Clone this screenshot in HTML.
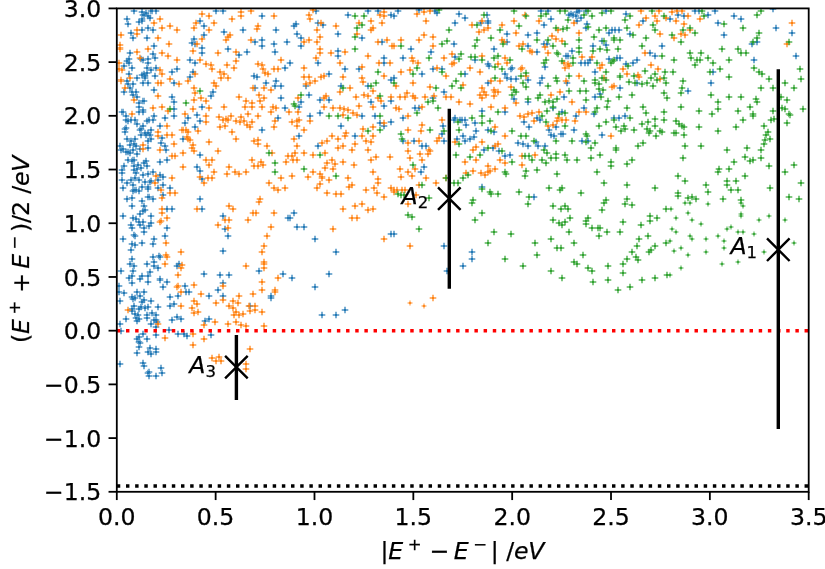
<!DOCTYPE html>
<html><head><meta charset="utf-8"><title>plot</title>
<style>html,body{margin:0;padding:0;background:#fff;width:825px;height:569px;overflow:hidden}svg{display:block}</style>
</head><body><svg width="825" height="569" viewBox="0 0 825 569" font-family="'DejaVu Sans', 'Liberation Sans', sans-serif" font-size="23.6"><g stroke="#000" stroke-width="0.25" stroke-opacity="1"><clipPath id="ax"><rect x="116.8" y="8.4" width="691.9000000000001" height="483.40000000000003"/></clipPath><g clip-path="url(#ax)"><path d="M130.7 11h6.6M147.7 11h6.6M152.7 11h6.6M212.7 11h6.6M219.7 11h6.6M140.7 15h6.6M144.7 16h6.6M123.7 19h6.6M135.7 22h6.6M196.7 21h6.6M124.7 24h6.6M200.7 26h6.6M144.7 28h6.6M138.7 30h6.6M149.7 30h6.6M220.7 32h6.6M239.7 30h6.6M127.7 33h6.6M129.7 38h6.6M143.7 38h6.6M190.7 39h6.6M200.7 35h6.6M150.7 46h6.6M188.7 43h6.6M191.7 44h6.6M198.7 48h6.6M224.7 49h6.6M126.7 53h6.6M149.7 54h6.6M235.7 55h6.6M243.7 52h6.6M198.7 53h6.6M125.7 59h6.6M125.7 63h6.6M139.7 60h6.6M144.7 59h6.6M144.7 63h6.6M186.7 60h6.6M191.7 63h6.6M128.7 68h6.6M143.7 68h6.6M143.7 73h6.6M152.7 68h6.6M168.7 72h6.6M173.7 69h6.6M189.7 72h6.6M125.7 74h6.6M151.7 76h6.6M133.7 78h6.6M141.7 78h6.6M186.7 77h6.6M250.7 76h6.6M123.7 81h6.6M139.7 83h6.6M144.7 83h6.6M170.7 83h6.6M126.7 88h6.6M128.7 92h6.6M120.7 92h6.6M132.7 92h6.6M150.7 90h6.6M209.7 92h6.6M133.7 97h6.6M139.7 101h6.6M135.7 103h6.6M168.7 97h6.6M170.7 102h6.6M207.7 96h6.6M142.7 13h6.6M148.7 11h6.6M146.7 18h6.6M138.7 21h6.6M138.7 19h6.6M138.7 12h6.6M144.7 28h6.6M139.7 15h6.6M140.7 101h6.6M138.7 75h6.6M151.7 58h6.6M147.7 70h6.6M123.7 61h6.6M129.7 95h6.6M124.7 84h6.6M140.7 74h6.6M137.7 59h6.6M120.7 66h6.6M141.7 76h6.6M129.7 84h6.6M312.7 11h6.6M258.7 16h6.6M344.7 15h6.6M364.7 11h6.6M374.7 11h6.6M387.7 15h6.6M292.7 24h6.6M290.7 26h6.6M314.7 23h6.6M319.7 25h6.6M272.7 30h6.6M334.7 34h6.6M358.7 38h6.6M293.7 34h6.6M297.7 38h6.6M258.7 40h6.6M251.7 42h6.6M270.7 44h6.6M258.7 46h6.6M283.7 42h6.6M297.7 46h6.6M378.7 42h6.6M271.7 52h6.6M334.7 51h6.6M334.7 56h6.6M286.7 63h6.6M314.7 63h6.6M380.7 58h6.6M380.7 63h6.6M281.7 68h6.6M341.7 69h6.6M355.7 69h6.6M325.7 74h6.6M253.7 77h6.6M262.7 83h6.6M272.7 81h6.6M277.7 86h6.6M271.7 86h6.6M251.7 88h6.6M302.7 86h6.6M337.7 86h6.6M364.7 86h6.6M277.7 98h6.6M305.7 95h6.6M297.7 102h6.6M316.7 100h6.6M325.7 100h6.6M367.7 102h6.6M387.7 101h6.6M387.7 80h6.6M394.7 11h6.6M390.7 16h6.6M433.7 13h6.6M431.7 11h6.6M415.7 10h6.6M455.7 14h6.6M461.7 18h6.6M483.7 15h6.6M451.7 23h6.6M477.7 23h6.6M484.7 21h6.6M484.7 23h6.6M503.7 34h6.6M524.7 35h6.6M407.7 49h6.6M450.7 44h6.6M503.7 42h6.6M490.7 49h6.6M524.7 46h6.6M427.7 52h6.6M399.7 58h6.6M451.7 57h6.6M471.7 60h6.6M485.7 66h6.6M484.7 64h6.6M418.7 74h6.6M429.7 69h6.6M438.7 69h6.6M507.7 69h6.6M508.7 68h6.6M501.7 74h6.6M461.7 74h6.6M390.7 78h6.6M484.7 83h6.6M503.7 78h6.6M507.7 79h6.6M512.7 79h6.6M524.7 80h6.6M429.7 98h6.6M440.7 92h6.6M510.7 99h6.6M524.7 102h6.6M537.7 11h6.6M544.7 11h6.6M565.7 15h6.6M569.7 15h6.6M572.7 16h6.6M575.7 11h6.6M573.7 21h6.6M582.7 11h6.6M602.7 11h6.6M622.7 14h6.6M547.7 19h6.6M639.7 21h6.6M540.7 25h6.6M583.7 24h6.6M582.7 28h6.6M608.7 30h6.6M611.7 30h6.6M615.7 30h6.6M605.7 33h6.6M626.7 34h6.6M533.7 33h6.6M598.7 41h6.6M540.7 44h6.6M543.7 44h6.6M533.7 52h6.6M568.7 51h6.6M562.7 56h6.6M564.7 56h6.6M589.7 46h6.6M602.7 45h6.6M658.7 46h6.6M646.7 53h6.6M651.7 56h6.6M605.7 59h6.6M613.7 58h6.6M616.7 58h6.6M541.7 67h6.6M577.7 63h6.6M581.7 63h6.6M584.7 63h6.6M586.7 60h6.6M591.7 72h6.6M622.7 64h6.6M629.7 63h6.6M633.7 60h6.6M538.7 78h6.6M536.7 83h6.6M563.7 83h6.6M616.7 88h6.6M633.7 83h6.6M596.7 94h6.6M591.7 97h6.6M560.7 97h6.6M674.7 15h6.6M680.7 16h6.6M691.7 11h6.6M695.7 11h6.6M704.7 15h6.6M711.7 11h6.6M666.7 19h6.6M714.7 23h6.6M730.7 16h6.6M737.7 19h6.6M769.7 9h6.6M772.7 28h6.6M788.7 33h6.6M748.7 44h6.6M753.7 42h6.6M720.7 35h6.6M792.7 56h6.6M750.7 60h6.6M709.7 72h6.6M707.7 83h6.6M684.7 91h6.6M119.7 112h6.6M122.7 120h6.6M127.7 120h6.6M131.7 120h6.6M135.7 112h6.6M139.7 112h6.6M135.7 107h6.6M133.7 124h6.6M139.7 126h6.6M143.7 121h6.6M145.7 120h6.6M147.7 130h6.6M137.7 129h6.6M121.7 132h6.6M123.7 139h6.6M127.7 141h6.6M131.7 139h6.6M132.7 146h6.6M129.7 150h6.6M133.7 154h6.6M126.7 153h6.6M124.7 160h6.6M128.7 161h6.6M130.7 160h6.6M144.7 141h6.6M147.7 139h6.6M144.7 148h6.6M137.7 135h6.6M142.7 135h6.6M130.7 166h6.6M137.7 168h6.6M143.7 166h6.6M132.7 173h6.6M139.7 175h6.6M144.7 174h6.6M127.7 180h6.6M123.7 183h6.6M129.7 185h6.6M135.7 180h6.6M141.7 182h6.6M138.7 187h6.6M119.7 188h6.6M132.7 190h6.6M144.7 187h6.6M128.7 198h6.6M123.7 199h6.6M144.7 197h6.6M149.7 199h6.6M170.7 109h6.6M170.7 116h6.6M161.7 118h6.6M156.7 126h6.6M158.7 138h6.6M157.7 143h6.6M161.7 146h6.6M162.7 150h6.6M163.7 160h6.6M156.7 162h6.6M156.7 175h6.6M159.7 177h6.6M154.7 180h6.6M159.7 185h6.6M154.7 188h6.6M166.7 188h6.6M159.7 195h6.6M184.7 118h6.6M181.7 123h6.6M179.7 139h6.6M191.7 127h6.6M193.7 115h6.6M196.7 121h6.6M198.7 107h6.6M196.7 155h6.6M193.7 167h6.6M196.7 171h6.6M198.7 179h6.6M196.7 199h6.6M141.7 133h6.6M150.7 116h6.6M131.7 178h6.6M122.7 152h6.6M118.7 170h6.6M142.7 161h6.6M146.7 135h6.6M140.7 163h6.6M136.7 149h6.6M145.7 197h6.6M133.7 169h6.6M118.7 173h6.6M138.7 201h6.6M144.7 133h6.6M130.7 170h6.6M117.7 150h6.6M122.7 116h6.6M118.7 180h6.6M121.7 129h6.6M130.7 190h6.6M119.7 149h6.6M135.7 191h6.6M144.7 189h6.6M126.7 145h6.6M129.7 191h6.6M149.7 120h6.6M122.7 128h6.6M124.7 152h6.6M136.7 130h6.6M116.7 146h6.6M129.7 160h6.6M149.7 172h6.6M134.7 165h6.6M139.7 110h6.6M147.7 181h6.6M146.7 182h6.6M130.7 144h6.6M120.7 166h6.6M118.7 112h6.6M124.7 121h6.6M281.7 108h6.6M295.7 107h6.6M274.7 118h6.6M258.7 130h6.6M306.7 116h6.6M316.7 113h6.6M358.7 116h6.6M371.7 116h6.6M380.7 106h6.6M376.7 123h6.6M380.7 126h6.6M387.7 122h6.6M337.7 126h6.6M295.7 136h6.6M314.7 146h6.6M351.7 136h6.6M411.7 108h6.6M415.7 108h6.6M399.7 118h6.6M399.7 141h6.6M410.7 141h6.6M418.7 146h6.6M422.7 146h6.6M420.7 167h6.6M417.7 172h6.6M439.7 126h6.6M438.7 134h6.6M440.7 141h6.6M450.7 120h6.6M451.7 118h6.6M456.7 120h6.6M458.7 120h6.6M461.7 120h6.6M462.7 125h6.6M471.7 123h6.6M478.7 111h6.6M501.7 112h6.6M484.7 130h6.6M490.7 132h6.6M472.7 131h6.6M470.7 137h6.6M466.7 139h6.6M461.7 141h6.6M459.7 136h6.6M453.7 139h6.6M480.7 150h6.6M489.7 148h6.6M495.7 151h6.6M501.7 156h6.6M506.7 155h6.6M514.7 143h6.6M519.7 144h6.6M524.7 146h6.6M520.7 122h6.6M525.7 127h6.6M478.7 187h6.6M533.7 118h6.6M536.7 120h6.6M549.7 108h6.6M558.7 112h6.6M552.7 127h6.6M545.7 130h6.6M547.7 135h6.6M550.7 136h6.6M557.7 134h6.6M559.7 134h6.6M570.7 130h6.6M572.7 116h6.6M580.7 108h6.6M590.7 114h6.6M610.7 118h6.6M615.7 118h6.6M621.7 116h6.6M598.7 135h6.6M578.7 141h6.6M584.7 141h6.6M532.7 142h6.6M534.7 146h6.6M541.7 146h6.6M530.7 197h6.6M128.7 206h6.6M140.7 206h6.6M141.7 210h6.6M139.7 211h6.6M163.7 209h6.6M168.7 209h6.6M198.7 209h6.6M119.7 216h6.6M129.7 218h6.6M132.7 219h6.6M147.7 216h6.6M135.7 222h6.6M139.7 222h6.6M147.7 223h6.6M127.7 225h6.6M128.7 228h6.6M140.7 228h6.6M140.7 232h6.6M163.7 228h6.6M219.7 216h6.6M221.7 229h6.6M119.7 239h6.6M131.7 236h6.6M150.7 239h6.6M149.7 244h6.6M161.7 236h6.6M138.7 243h6.6M131.7 245h6.6M127.7 250h6.6M224.7 236h6.6M219.7 251h6.6M149.7 257h6.6M155.7 256h6.6M156.7 257h6.6M128.7 259h6.6M126.7 264h6.6M143.7 264h6.6M130.7 266h6.6M150.7 262h6.6M150.7 266h6.6M154.7 268h6.6M173.7 266h6.6M175.7 264h6.6M117.7 271h6.6M129.7 271h6.6M128.7 276h6.6M138.7 276h6.6M144.7 276h6.6M156.7 279h6.6M156.7 280h6.6M200.7 274h6.6M216.7 275h6.6M225.7 275h6.6M128.7 283h6.6M144.7 282h6.6M163.7 282h6.6M115.7 286h6.6M115.7 292h6.6M159.7 287h6.6M181.7 286h6.6M219.7 283h6.6M214.7 290h6.6M182.7 292h6.6M185.7 292h6.6M133.7 292h6.6M140.7 292h6.6M128.7 297h6.6M131.7 298h6.6M166.7 297h6.6M174.7 296h6.6M205.7 296h6.6M219.7 296h6.6M130.7 235h6.6M145.7 226h6.6M120.7 293h6.6M136.7 225h6.6M136.7 214h6.6M136.7 296h6.6M146.7 272h6.6M128.7 244h6.6M125.7 278h6.6M136.7 279h6.6M290.7 213h6.6M284.7 218h6.6M286.7 218h6.6M293.7 227h6.6M300.7 227h6.6M255.7 271h6.6M279.7 274h6.6M288.7 278h6.6M311.7 239h6.6M332.7 252h6.6M325.7 274h6.6M311.7 287h6.6M267.7 296h6.6M387.7 234h6.6M390.7 234h6.6M440.7 246h6.6M468.7 252h6.6M468.7 259h6.6M459.7 266h6.6M443.7 271h6.6M129.7 299h6.6M140.7 300h6.6M147.7 301h6.6M116.7 301h6.6M130.7 306h6.6M135.7 309h6.6M141.7 308h6.6M144.7 307h6.6M154.7 307h6.6M148.7 313h6.6M152.7 315h6.6M131.7 314h6.6M132.7 318h6.6M133.7 321h6.6M143.7 315h6.6M143.7 318h6.6M150.7 320h6.6M147.7 324h6.6M122.7 319h6.6M116.7 324h6.6M128.7 311h6.6M166.7 306h6.6M170.7 304h6.6M168.7 320h6.6M173.7 317h6.6M177.7 319h6.6M201.7 321h6.6M205.7 319h6.6M246.7 306h6.6M165.7 330h6.6M174.7 334h6.6M180.7 334h6.6M183.7 336h6.6M207.7 335h6.6M117.7 331h6.6M133.7 339h6.6M135.7 337h6.6M139.7 334h6.6M143.7 339h6.6M152.7 335h6.6M135.7 347h6.6M146.7 348h6.6M147.7 354h6.6M144.7 352h6.6M133.7 353h6.6M116.7 364h6.6M139.7 363h6.6M140.7 366h6.6M144.7 373h6.6M145.7 376h6.6M157.7 368h6.6M158.7 373h6.6M137.7 307h6.6M152.7 327h6.6M153.7 322h6.6M152.7 320h6.6M134.7 315h6.6M138.7 302h6.6M128.7 309h6.6M135.7 319h6.6M267.7 298h6.6M318.7 315h6.6M332.7 315h6.6M341.7 310h6.6M152.7 352h6.6M152.7 376h6.6M152.7 349h6.6M136.7 343h6.6M135.7 342h6.6M145.7 372h6.6M567.7 14h6.6M573.7 12h6.6M577.7 18h6.6" stroke="#1f77b4" stroke-width="2" stroke-opacity="0.6" fill="none"/><path d="M134 7.7v6.6M151 7.7v6.6M156 7.7v6.6M216 7.7v6.6M223 7.7v6.6M144 11.7v6.6M148 12.7v6.6M127 15.7v6.6M139 18.7v6.6M200 17.7v6.6M128 20.7v6.6M204 22.7v6.6M148 24.7v6.6M142 26.7v6.6M153 26.7v6.6M224 28.7v6.6M243 26.7v6.6M131 29.7v6.6M133 34.7v6.6M147 34.7v6.6M194 35.7v6.6M204 31.7v6.6M154 42.7v6.6M192 39.7v6.6M195 40.7v6.6M202 44.7v6.6M228 45.7v6.6M130 49.7v6.6M153 50.7v6.6M239 51.7v6.6M247 48.7v6.6M202 49.7v6.6M129 55.7v6.6M129 59.7v6.6M143 56.7v6.6M148 55.7v6.6M148 59.7v6.6M190 56.7v6.6M195 59.7v6.6M132 64.7v6.6M147 64.7v6.6M147 69.7v6.6M156 64.7v6.6M172 68.7v6.6M177 65.7v6.6M193 68.7v6.6M129 70.7v6.6M155 72.7v6.6M137 74.7v6.6M145 74.7v6.6M190 73.7v6.6M254 72.7v6.6M127 77.7v6.6M143 79.7v6.6M148 79.7v6.6M174 79.7v6.6M130 84.7v6.6M132 88.7v6.6M124 88.7v6.6M136 88.7v6.6M154 86.7v6.6M213 88.7v6.6M137 93.7v6.6M143 97.7v6.6M139 99.7v6.6M172 93.7v6.6M174 98.7v6.6M211 92.7v6.6M146 9.7v6.6M152 7.7v6.6M150 14.7v6.6M142 17.7v6.6M142 15.7v6.6M142 8.7v6.6M148 24.7v6.6M143 11.7v6.6M144 97.7v6.6M142 71.7v6.6M155 54.7v6.6M151 66.7v6.6M127 57.7v6.6M133 91.7v6.6M128 80.7v6.6M144 70.7v6.6M141 55.7v6.6M124 62.7v6.6M145 72.7v6.6M133 80.7v6.6M316 7.7v6.6M262 12.7v6.6M348 11.7v6.6M368 7.7v6.6M378 7.7v6.6M391 11.7v6.6M296 20.7v6.6M294 22.7v6.6M318 19.7v6.6M323 21.7v6.6M276 26.7v6.6M338 30.7v6.6M362 34.7v6.6M297 30.7v6.6M301 34.7v6.6M262 36.7v6.6M255 38.7v6.6M274 40.7v6.6M262 42.7v6.6M287 38.7v6.6M301 42.7v6.6M382 38.7v6.6M275 48.7v6.6M338 47.7v6.6M338 52.7v6.6M290 59.7v6.6M318 59.7v6.6M384 54.7v6.6M384 59.7v6.6M285 64.7v6.6M345 65.7v6.6M359 65.7v6.6M329 70.7v6.6M257 73.7v6.6M266 79.7v6.6M276 77.7v6.6M281 82.7v6.6M275 82.7v6.6M255 84.7v6.6M306 82.7v6.6M341 82.7v6.6M368 82.7v6.6M281 94.7v6.6M309 91.7v6.6M301 98.7v6.6M320 96.7v6.6M329 96.7v6.6M371 98.7v6.6M391 97.7v6.6M391 76.7v6.6M398 7.7v6.6M394 12.7v6.6M437 9.7v6.6M435 7.7v6.6M419 6.7v6.6M459 10.7v6.6M465 14.7v6.6M487 11.7v6.6M455 19.7v6.6M481 19.7v6.6M488 17.7v6.6M488 19.7v6.6M507 30.7v6.6M528 31.7v6.6M411 45.7v6.6M454 40.7v6.6M507 38.7v6.6M494 45.7v6.6M528 42.7v6.6M431 48.7v6.6M403 54.7v6.6M455 53.7v6.6M475 56.7v6.6M489 62.7v6.6M488 60.7v6.6M422 70.7v6.6M433 65.7v6.6M442 65.7v6.6M511 65.7v6.6M512 64.7v6.6M505 70.7v6.6M465 70.7v6.6M394 74.7v6.6M488 79.7v6.6M507 74.7v6.6M511 75.7v6.6M516 75.7v6.6M528 76.7v6.6M433 94.7v6.6M444 88.7v6.6M514 95.7v6.6M528 98.7v6.6M541 7.7v6.6M548 7.7v6.6M569 11.7v6.6M573 11.7v6.6M576 12.7v6.6M579 7.7v6.6M577 17.7v6.6M586 7.7v6.6M606 7.7v6.6M626 10.7v6.6M551 15.7v6.6M643 17.7v6.6M544 21.7v6.6M587 20.7v6.6M586 24.7v6.6M612 26.7v6.6M615 26.7v6.6M619 26.7v6.6M609 29.7v6.6M630 30.7v6.6M537 29.7v6.6M602 37.7v6.6M544 40.7v6.6M547 40.7v6.6M537 48.7v6.6M572 47.7v6.6M566 52.7v6.6M568 52.7v6.6M593 42.7v6.6M606 41.7v6.6M662 42.7v6.6M650 49.7v6.6M655 52.7v6.6M609 55.7v6.6M617 54.7v6.6M620 54.7v6.6M545 63.7v6.6M581 59.7v6.6M585 59.7v6.6M588 59.7v6.6M590 56.7v6.6M595 68.7v6.6M626 60.7v6.6M633 59.7v6.6M637 56.7v6.6M542 74.7v6.6M540 79.7v6.6M567 79.7v6.6M620 84.7v6.6M637 79.7v6.6M600 90.7v6.6M595 93.7v6.6M564 93.7v6.6M678 11.7v6.6M684 12.7v6.6M695 7.7v6.6M699 7.7v6.6M708 11.7v6.6M715 7.7v6.6M670 15.7v6.6M718 19.7v6.6M734 12.7v6.6M741 15.7v6.6M773 5.7v6.6M776 24.7v6.6M792 29.7v6.6M752 40.7v6.6M757 38.7v6.6M724 31.7v6.6M796 52.7v6.6M754 56.7v6.6M713 68.7v6.6M711 79.7v6.6M688 87.7v6.6M123 108.7v6.6M126 116.7v6.6M131 116.7v6.6M135 116.7v6.6M139 108.7v6.6M143 108.7v6.6M139 103.7v6.6M137 120.7v6.6M143 122.7v6.6M147 117.7v6.6M149 116.7v6.6M151 126.7v6.6M141 125.7v6.6M125 128.7v6.6M127 135.7v6.6M131 137.7v6.6M135 135.7v6.6M136 142.7v6.6M133 146.7v6.6M137 150.7v6.6M130 149.7v6.6M128 156.7v6.6M132 157.7v6.6M134 156.7v6.6M148 137.7v6.6M151 135.7v6.6M148 144.7v6.6M141 131.7v6.6M146 131.7v6.6M134 162.7v6.6M141 164.7v6.6M147 162.7v6.6M136 169.7v6.6M143 171.7v6.6M148 170.7v6.6M131 176.7v6.6M127 179.7v6.6M133 181.7v6.6M139 176.7v6.6M145 178.7v6.6M142 183.7v6.6M123 184.7v6.6M136 186.7v6.6M148 183.7v6.6M132 194.7v6.6M127 195.7v6.6M148 193.7v6.6M153 195.7v6.6M174 105.7v6.6M174 112.7v6.6M165 114.7v6.6M160 122.7v6.6M162 134.7v6.6M161 139.7v6.6M165 142.7v6.6M166 146.7v6.6M167 156.7v6.6M160 158.7v6.6M160 171.7v6.6M163 173.7v6.6M158 176.7v6.6M163 181.7v6.6M158 184.7v6.6M170 184.7v6.6M163 191.7v6.6M188 114.7v6.6M185 119.7v6.6M183 135.7v6.6M195 123.7v6.6M197 111.7v6.6M200 117.7v6.6M202 103.7v6.6M200 151.7v6.6M197 163.7v6.6M200 167.7v6.6M202 175.7v6.6M200 195.7v6.6M145 129.7v6.6M154 112.7v6.6M135 174.7v6.6M126 148.7v6.6M122 166.7v6.6M146 157.7v6.6M150 131.7v6.6M144 159.7v6.6M140 145.7v6.6M149 193.7v6.6M137 165.7v6.6M122 169.7v6.6M142 197.7v6.6M148 129.7v6.6M134 166.7v6.6M121 146.7v6.6M126 112.7v6.6M122 176.7v6.6M125 125.7v6.6M134 186.7v6.6M123 145.7v6.6M139 187.7v6.6M148 185.7v6.6M130 141.7v6.6M133 187.7v6.6M153 116.7v6.6M126 124.7v6.6M128 148.7v6.6M140 126.7v6.6M120 142.7v6.6M133 156.7v6.6M153 168.7v6.6M138 161.7v6.6M143 106.7v6.6M151 177.7v6.6M150 178.7v6.6M134 140.7v6.6M124 162.7v6.6M122 108.7v6.6M128 117.7v6.6M285 104.7v6.6M299 103.7v6.6M278 114.7v6.6M262 126.7v6.6M310 112.7v6.6M320 109.7v6.6M362 112.7v6.6M375 112.7v6.6M384 102.7v6.6M380 119.7v6.6M384 122.7v6.6M391 118.7v6.6M341 122.7v6.6M299 132.7v6.6M318 142.7v6.6M355 132.7v6.6M415 104.7v6.6M419 104.7v6.6M403 114.7v6.6M403 137.7v6.6M414 137.7v6.6M422 142.7v6.6M426 142.7v6.6M424 163.7v6.6M421 168.7v6.6M443 122.7v6.6M442 130.7v6.6M444 137.7v6.6M454 116.7v6.6M455 114.7v6.6M460 116.7v6.6M462 116.7v6.6M465 116.7v6.6M466 121.7v6.6M475 119.7v6.6M482 107.7v6.6M505 108.7v6.6M488 126.7v6.6M494 128.7v6.6M476 127.7v6.6M474 133.7v6.6M470 135.7v6.6M465 137.7v6.6M463 132.7v6.6M457 135.7v6.6M484 146.7v6.6M493 144.7v6.6M499 147.7v6.6M505 152.7v6.6M510 151.7v6.6M518 139.7v6.6M523 140.7v6.6M528 142.7v6.6M524 118.7v6.6M529 123.7v6.6M482 183.7v6.6M537 114.7v6.6M540 116.7v6.6M553 104.7v6.6M562 108.7v6.6M556 123.7v6.6M549 126.7v6.6M551 131.7v6.6M554 132.7v6.6M561 130.7v6.6M563 130.7v6.6M574 126.7v6.6M576 112.7v6.6M584 104.7v6.6M594 110.7v6.6M614 114.7v6.6M619 114.7v6.6M625 112.7v6.6M602 131.7v6.6M582 137.7v6.6M588 137.7v6.6M536 138.7v6.6M538 142.7v6.6M545 142.7v6.6M534 193.7v6.6M132 202.7v6.6M144 202.7v6.6M145 206.7v6.6M143 207.7v6.6M167 205.7v6.6M172 205.7v6.6M202 205.7v6.6M123 212.7v6.6M133 214.7v6.6M136 215.7v6.6M151 212.7v6.6M139 218.7v6.6M143 218.7v6.6M151 219.7v6.6M131 221.7v6.6M132 224.7v6.6M144 224.7v6.6M144 228.7v6.6M167 224.7v6.6M223 212.7v6.6M225 225.7v6.6M123 235.7v6.6M135 232.7v6.6M154 235.7v6.6M153 240.7v6.6M165 232.7v6.6M142 239.7v6.6M135 241.7v6.6M131 246.7v6.6M228 232.7v6.6M223 247.7v6.6M153 253.7v6.6M159 252.7v6.6M160 253.7v6.6M132 255.7v6.6M130 260.7v6.6M147 260.7v6.6M134 262.7v6.6M154 258.7v6.6M154 262.7v6.6M158 264.7v6.6M177 262.7v6.6M179 260.7v6.6M121 267.7v6.6M133 267.7v6.6M132 272.7v6.6M142 272.7v6.6M148 272.7v6.6M160 275.7v6.6M160 276.7v6.6M204 270.7v6.6M220 271.7v6.6M229 271.7v6.6M132 279.7v6.6M148 278.7v6.6M167 278.7v6.6M119 282.7v6.6M119 288.7v6.6M163 283.7v6.6M185 282.7v6.6M223 279.7v6.6M218 286.7v6.6M186 288.7v6.6M189 288.7v6.6M137 288.7v6.6M144 288.7v6.6M132 293.7v6.6M135 294.7v6.6M170 293.7v6.6M178 292.7v6.6M209 292.7v6.6M223 292.7v6.6M134 231.7v6.6M149 222.7v6.6M124 289.7v6.6M140 221.7v6.6M140 210.7v6.6M140 292.7v6.6M150 268.7v6.6M132 240.7v6.6M129 274.7v6.6M140 275.7v6.6M294 209.7v6.6M288 214.7v6.6M290 214.7v6.6M297 223.7v6.6M304 223.7v6.6M259 267.7v6.6M283 270.7v6.6M292 274.7v6.6M315 235.7v6.6M336 248.7v6.6M329 270.7v6.6M315 283.7v6.6M271 292.7v6.6M391 230.7v6.6M394 230.7v6.6M444 242.7v6.6M472 248.7v6.6M472 255.7v6.6M463 262.7v6.6M447 267.7v6.6M133 295.7v6.6M144 296.7v6.6M151 297.7v6.6M120 297.7v6.6M134 302.7v6.6M139 305.7v6.6M145 304.7v6.6M148 303.7v6.6M158 303.7v6.6M152 309.7v6.6M156 311.7v6.6M135 310.7v6.6M136 314.7v6.6M137 317.7v6.6M147 311.7v6.6M147 314.7v6.6M154 316.7v6.6M151 320.7v6.6M126 315.7v6.6M120 320.7v6.6M132 307.7v6.6M170 302.7v6.6M174 300.7v6.6M172 316.7v6.6M177 313.7v6.6M181 315.7v6.6M205 317.7v6.6M209 315.7v6.6M250 302.7v6.6M169 326.7v6.6M178 330.7v6.6M184 330.7v6.6M187 332.7v6.6M211 331.7v6.6M121 327.7v6.6M137 335.7v6.6M139 333.7v6.6M143 330.7v6.6M147 335.7v6.6M156 331.7v6.6M139 343.7v6.6M150 344.7v6.6M151 350.7v6.6M148 348.7v6.6M137 349.7v6.6M120 360.7v6.6M143 359.7v6.6M144 362.7v6.6M148 369.7v6.6M149 372.7v6.6M161 364.7v6.6M162 369.7v6.6M141 303.7v6.6M156 323.7v6.6M157 318.7v6.6M156 316.7v6.6M138 311.7v6.6M142 298.7v6.6M132 305.7v6.6M139 315.7v6.6M271 294.7v6.6M322 311.7v6.6M336 311.7v6.6M345 306.7v6.6M156 348.7v6.6M156 372.7v6.6M156 345.7v6.6M140 339.7v6.6M139 338.7v6.6M149 368.7v6.6M571 10.7v6.6M577 8.7v6.6M581 14.7v6.6" stroke="#1f77b4" stroke-width="2" stroke-opacity="0.6" fill="none"/><path d="M133 11h2M150 11h2M155 11h2M215 11h2M222 11h2M143 15h2M147 16h2M126 19h2M138 22h2M199 21h2M127 24h2M203 26h2M147 28h2M141 30h2M152 30h2M223 32h2M242 30h2M130 33h2M132 38h2M146 38h2M193 39h2M203 35h2M153 46h2M191 43h2M194 44h2M201 48h2M227 49h2M129 53h2M152 54h2M238 55h2M246 52h2M201 53h2M128 59h2M128 63h2M142 60h2M147 59h2M147 63h2M189 60h2M194 63h2M131 68h2M146 68h2M146 73h2M155 68h2M171 72h2M176 69h2M192 72h2M128 74h2M154 76h2M136 78h2M144 78h2M189 77h2M253 76h2M126 81h2M142 83h2M147 83h2M173 83h2M129 88h2M131 92h2M123 92h2M135 92h2M153 90h2M212 92h2M136 97h2M142 101h2M138 103h2M171 97h2M173 102h2M210 96h2M145 13h2M151 11h2M149 18h2M141 21h2M141 19h2M141 12h2M147 28h2M142 15h2M143 101h2M141 75h2M154 58h2M150 70h2M126 61h2M132 95h2M127 84h2M143 74h2M140 59h2M123 66h2M144 76h2M132 84h2M315 11h2M261 16h2M347 15h2M367 11h2M377 11h2M390 15h2M295 24h2M293 26h2M317 23h2M322 25h2M275 30h2M337 34h2M361 38h2M296 34h2M300 38h2M261 40h2M254 42h2M273 44h2M261 46h2M286 42h2M300 46h2M381 42h2M274 52h2M337 51h2M337 56h2M289 63h2M317 63h2M383 58h2M383 63h2M284 68h2M344 69h2M358 69h2M328 74h2M256 77h2M265 83h2M275 81h2M280 86h2M274 86h2M254 88h2M305 86h2M340 86h2M367 86h2M280 98h2M308 95h2M300 102h2M319 100h2M328 100h2M370 102h2M390 101h2M390 80h2M397 11h2M393 16h2M436 13h2M434 11h2M418 10h2M458 14h2M464 18h2M486 15h2M454 23h2M480 23h2M487 21h2M487 23h2M506 34h2M527 35h2M410 49h2M453 44h2M506 42h2M493 49h2M527 46h2M430 52h2M402 58h2M454 57h2M474 60h2M488 66h2M487 64h2M421 74h2M432 69h2M441 69h2M510 69h2M511 68h2M504 74h2M464 74h2M393 78h2M487 83h2M506 78h2M510 79h2M515 79h2M527 80h2M432 98h2M443 92h2M513 99h2M527 102h2M540 11h2M547 11h2M568 15h2M572 15h2M575 16h2M578 11h2M576 21h2M585 11h2M605 11h2M625 14h2M550 19h2M642 21h2M543 25h2M586 24h2M585 28h2M611 30h2M614 30h2M618 30h2M608 33h2M629 34h2M536 33h2M601 41h2M543 44h2M546 44h2M536 52h2M571 51h2M565 56h2M567 56h2M592 46h2M605 45h2M661 46h2M649 53h2M654 56h2M608 59h2M616 58h2M619 58h2M544 67h2M580 63h2M584 63h2M587 63h2M589 60h2M594 72h2M625 64h2M632 63h2M636 60h2M541 78h2M539 83h2M566 83h2M619 88h2M636 83h2M599 94h2M594 97h2M563 97h2M677 15h2M683 16h2M694 11h2M698 11h2M707 15h2M714 11h2M669 19h2M717 23h2M733 16h2M740 19h2M772 9h2M775 28h2M791 33h2M751 44h2M756 42h2M723 35h2M795 56h2M753 60h2M712 72h2M710 83h2M687 91h2M122 112h2M125 120h2M130 120h2M134 120h2M138 112h2M142 112h2M138 107h2M136 124h2M142 126h2M146 121h2M148 120h2M150 130h2M140 129h2M124 132h2M126 139h2M130 141h2M134 139h2M135 146h2M132 150h2M136 154h2M129 153h2M127 160h2M131 161h2M133 160h2M147 141h2M150 139h2M147 148h2M140 135h2M145 135h2M133 166h2M140 168h2M146 166h2M135 173h2M142 175h2M147 174h2M130 180h2M126 183h2M132 185h2M138 180h2M144 182h2M141 187h2M122 188h2M135 190h2M147 187h2M131 198h2M126 199h2M147 197h2M152 199h2M173 109h2M173 116h2M164 118h2M159 126h2M161 138h2M160 143h2M164 146h2M165 150h2M166 160h2M159 162h2M159 175h2M162 177h2M157 180h2M162 185h2M157 188h2M169 188h2M162 195h2M187 118h2M184 123h2M182 139h2M194 127h2M196 115h2M199 121h2M201 107h2M199 155h2M196 167h2M199 171h2M201 179h2M199 199h2M144 133h2M153 116h2M134 178h2M125 152h2M121 170h2M145 161h2M149 135h2M143 163h2M139 149h2M148 197h2M136 169h2M121 173h2M141 201h2M147 133h2M133 170h2M120 150h2M125 116h2M121 180h2M124 129h2M133 190h2M122 149h2M138 191h2M147 189h2M129 145h2M132 191h2M152 120h2M125 128h2M127 152h2M139 130h2M119 146h2M132 160h2M152 172h2M137 165h2M142 110h2M150 181h2M149 182h2M133 144h2M123 166h2M121 112h2M127 121h2M284 108h2M298 107h2M277 118h2M261 130h2M309 116h2M319 113h2M361 116h2M374 116h2M383 106h2M379 123h2M383 126h2M390 122h2M340 126h2M298 136h2M317 146h2M354 136h2M414 108h2M418 108h2M402 118h2M402 141h2M413 141h2M421 146h2M425 146h2M423 167h2M420 172h2M442 126h2M441 134h2M443 141h2M453 120h2M454 118h2M459 120h2M461 120h2M464 120h2M465 125h2M474 123h2M481 111h2M504 112h2M487 130h2M493 132h2M475 131h2M473 137h2M469 139h2M464 141h2M462 136h2M456 139h2M483 150h2M492 148h2M498 151h2M504 156h2M509 155h2M517 143h2M522 144h2M527 146h2M523 122h2M528 127h2M481 187h2M536 118h2M539 120h2M552 108h2M561 112h2M555 127h2M548 130h2M550 135h2M553 136h2M560 134h2M562 134h2M573 130h2M575 116h2M583 108h2M593 114h2M613 118h2M618 118h2M624 116h2M601 135h2M581 141h2M587 141h2M535 142h2M537 146h2M544 146h2M533 197h2M131 206h2M143 206h2M144 210h2M142 211h2M166 209h2M171 209h2M201 209h2M122 216h2M132 218h2M135 219h2M150 216h2M138 222h2M142 222h2M150 223h2M130 225h2M131 228h2M143 228h2M143 232h2M166 228h2M222 216h2M224 229h2M122 239h2M134 236h2M153 239h2M152 244h2M164 236h2M141 243h2M134 245h2M130 250h2M227 236h2M222 251h2M152 257h2M158 256h2M159 257h2M131 259h2M129 264h2M146 264h2M133 266h2M153 262h2M153 266h2M157 268h2M176 266h2M178 264h2M120 271h2M132 271h2M131 276h2M141 276h2M147 276h2M159 279h2M159 280h2M203 274h2M219 275h2M228 275h2M131 283h2M147 282h2M166 282h2M118 286h2M118 292h2M162 287h2M184 286h2M222 283h2M217 290h2M185 292h2M188 292h2M136 292h2M143 292h2M131 297h2M134 298h2M169 297h2M177 296h2M208 296h2M222 296h2M133 235h2M148 226h2M123 293h2M139 225h2M139 214h2M139 296h2M149 272h2M131 244h2M128 278h2M139 279h2M293 213h2M287 218h2M289 218h2M296 227h2M303 227h2M258 271h2M282 274h2M291 278h2M314 239h2M335 252h2M328 274h2M314 287h2M270 296h2M390 234h2M393 234h2M443 246h2M471 252h2M471 259h2M462 266h2M446 271h2M132 299h2M143 300h2M150 301h2M119 301h2M133 306h2M138 309h2M144 308h2M147 307h2M157 307h2M151 313h2M155 315h2M134 314h2M135 318h2M136 321h2M146 315h2M146 318h2M153 320h2M150 324h2M125 319h2M119 324h2M131 311h2M169 306h2M173 304h2M171 320h2M176 317h2M180 319h2M204 321h2M208 319h2M249 306h2M168 330h2M177 334h2M183 334h2M186 336h2M210 335h2M120 331h2M136 339h2M138 337h2M142 334h2M146 339h2M155 335h2M138 347h2M149 348h2M150 354h2M147 352h2M136 353h2M119 364h2M142 363h2M143 366h2M147 373h2M148 376h2M160 368h2M161 373h2M140 307h2M155 327h2M156 322h2M155 320h2M137 315h2M141 302h2M131 309h2M138 319h2M270 298h2M321 315h2M335 315h2M344 310h2M155 352h2M155 376h2M155 349h2M139 343h2M138 342h2M148 372h2M570 14h2M576 12h2M580 18h2" stroke="#1f77b4" stroke-width="2" stroke-opacity="0.95" fill="none"/><path d="M198.7 14h6.6M205.7 16h6.6M237.7 12h6.6M247.7 11h6.6M156.7 19h6.6M192.7 23h6.6M228.7 19h6.6M237.7 16h6.6M150.7 23h6.6M166.7 26h6.6M210.7 23h6.6M190.7 28h6.6M133.7 30h6.6M158.7 28h6.6M173.7 30h6.6M205.7 30h6.6M117.7 35h6.6M133.7 34h6.6M154.7 38h6.6M198.7 39h6.6M224.7 37h6.6M226.7 35h6.6M222.7 40h6.6M247.7 40h6.6M116.7 45h6.6M165.7 44h6.6M193.7 44h6.6M189.7 51h6.6M144.7 49h6.6M116.7 49h6.6M133.7 52h6.6M158.7 53h6.6M164.7 56h6.6M214.7 53h6.6M232.7 52h6.6M136.7 58h6.6M173.7 60h6.6M196.7 60h6.6M202.7 64h6.6M207.7 65h6.6M223.7 65h6.6M232.7 61h6.6M230.7 68h6.6M115.7 69h6.6M156.7 70h6.6M208.7 69h6.6M216.7 72h6.6M220.7 74h6.6M158.7 74h6.6M126.7 78h6.6M166.7 79h6.6M191.7 74h6.6M217.7 78h6.6M224.7 78h6.6M117.7 81h6.6M154.7 83h6.6M157.7 83h6.6M175.7 84h6.6M184.7 81h6.6M210.7 83h6.6M212.7 86h6.6M121.7 88h6.6M190.7 88h6.6M191.7 93h6.6M249.7 88h6.6M130.7 100h6.6M154.7 96h6.6M190.7 100h6.6M197.7 98h6.6M202.7 101h6.6M235.7 97h6.6M242.7 101h6.6M248.7 103h6.6M116.7 48h6.6M118.7 70h6.6M115.7 63h6.6M117.7 80h6.6M309.7 10h6.6M270.7 16h6.6M305.7 15h6.6M306.7 19h6.6M380.7 12h6.6M376.7 15h6.6M380.7 16h6.6M254.7 26h6.6M253.7 29h6.6M317.7 23h6.6M332.7 26h6.6M355.7 23h6.6M367.7 21h6.6M378.7 23h6.6M369.7 28h6.6M367.7 30h6.6M313.7 30h6.6M353.7 34h6.6M305.7 40h6.6M316.7 37h6.6M313.7 42h6.6M300.7 42h6.6M383.7 40h6.6M374.7 42h6.6M388.7 46h6.6M316.7 49h6.6M316.7 53h6.6M327.7 53h6.6M341.7 52h6.6M364.7 56h6.6M312.7 58h6.6M277.7 60h6.6M336.7 63h6.6M375.7 63h6.6M386.7 63h6.6M254.7 64h6.6M258.7 65h6.6M259.7 69h6.6M261.7 73h6.6M264.7 74h6.6M270.7 69h6.6M274.7 69h6.6M300.7 68h6.6M358.7 67h6.6M320.7 76h6.6M317.7 77h6.6M300.7 77h6.6M305.7 77h6.6M358.7 78h6.6M359.7 82h6.6M339.7 77h6.6M380.7 76h6.6M260.7 88h6.6M267.7 90h6.6M306.7 83h6.6M302.7 84h6.6M311.7 81h6.6M346.7 88h6.6M336.7 92h6.6M369.7 91h6.6M255.7 95h6.6M260.7 98h6.6M256.7 101h6.6M294.7 98h6.6M322.7 96h6.6M320.7 98h6.6M352.7 97h6.6M360.7 95h6.6M364.7 96h6.6M374.7 98h6.6M377.7 101h6.6M387.7 97h6.6M413.7 14h6.6M420.7 12h6.6M426.7 11h6.6M521.7 15h6.6M422.7 21h6.6M468.7 25h6.6M478.7 21h6.6M484.7 28h6.6M480.7 30h6.6M475.7 32h6.6M498.7 25h6.6M510.7 21h6.6M512.7 33h6.6M397.7 40h6.6M420.7 35h6.6M415.7 40h6.6M429.7 37h6.6M390.7 46h6.6M429.7 46h6.6M498.7 40h6.6M500.7 42h6.6M515.7 46h6.6M519.7 44h6.6M526.7 51h6.6M448.7 54h6.6M408.7 58h6.6M409.7 61h6.6M414.7 63h6.6M440.7 58h6.6M478.7 56h6.6M501.7 58h6.6M503.7 63h6.6M448.7 64h6.6M450.7 63h6.6M406.7 70h6.6M397.7 72h6.6M433.7 68h6.6M466.7 68h6.6M476.7 72h6.6M494.7 64h6.6M518.7 68h6.6M517.7 69h6.6M442.7 76h6.6M392.7 86h6.6M409.7 83h6.6M459.7 85h6.6M487.7 81h6.6M496.7 81h6.6M522.7 76h6.6M426.7 87h6.6M478.7 88h6.6M480.7 92h6.6M490.7 90h6.6M491.7 92h6.6M494.7 92h6.6M507.7 87h6.6M403.7 93h6.6M396.7 97h6.6M401.7 97h6.6M409.7 96h6.6M411.7 98h6.6M421.7 97h6.6M430.7 96h6.6M442.7 97h6.6M447.7 97h6.6M476.7 95h6.6M482.7 95h6.6M490.7 96h6.6M478.7 98h6.6M455.7 102h6.6M466.7 104h6.6M512.7 103h6.6M637.7 11h6.6M655.7 11h6.6M651.7 16h6.6M653.7 21h6.6M662.7 18h6.6M535.7 21h6.6M642.7 18h6.6M570.7 23h6.6M554.7 30h6.6M635.7 25h6.6M656.7 34h6.6M575.7 33h6.6M548.7 36h6.6M552.7 39h6.6M558.7 41h6.6M541.7 47h6.6M528.7 52h6.6M544.7 53h6.6M578.7 57h6.6M641.7 53h6.6M588.7 57h6.6M560.7 63h6.6M564.7 64h6.6M561.7 68h6.6M565.7 66h6.6M598.7 65h6.6M596.7 68h6.6M619.7 69h6.6M623.7 74h6.6M634.7 75h6.6M635.7 77h6.6M647.7 65h6.6M654.7 69h6.6M575.7 76h6.6M562.7 81h6.6M600.7 78h6.6M608.7 87h6.6M610.7 86h6.6M656.7 79h6.6M556.7 92h6.6M547.7 95h6.6M568.7 102h6.6M668.7 12h6.6M673.7 11h6.6M678.7 11h6.6M684.7 16h6.6M696.7 19h6.6M672.7 21h6.6M680.7 24h6.6M788.7 23h6.6M686.7 30h6.6M677.7 34h6.6M681.7 35h6.6M670.7 38h6.6M783.7 44h6.6M128.7 114h6.6M139.7 145h6.6M139.7 149h6.6M149.7 108h6.6M158.7 107h6.6M164.7 111h6.6M163.7 126h6.6M154.7 132h6.6M154.7 136h6.6M163.7 135h6.6M168.7 135h6.6M156.7 150h6.6M170.7 144h6.6M168.7 156h6.6M171.7 156h6.6M152.7 176h6.6M168.7 178h6.6M151.7 183h6.6M157.7 190h6.6M166.7 193h6.6M171.7 193h6.6M158.7 198h6.6M179.7 153h6.6M179.7 167h6.6M181.7 114h6.6M179.7 130h6.6M184.7 132h6.6M183.7 137h6.6M186.7 140h6.6M189.7 145h6.6M188.7 148h6.6M194.7 131h6.6M189.7 109h6.6M202.7 116h6.6M202.7 122h6.6M205.7 108h6.6M205.7 142h6.6M196.7 177h6.6M200.7 183h6.6M204.7 178h6.6M208.7 178h6.6M202.7 160h6.6M208.7 160h6.6M205.7 165h6.6M210.7 172h6.6M214.7 151h6.6M220.7 107h6.6M219.7 120h6.6M222.7 119h6.6M221.7 126h6.6M228.7 132h6.6M232.7 139h6.6M232.7 121h6.6M236.7 122h6.6M240.7 121h6.6M243.7 125h6.6M246.7 127h6.6M248.7 122h6.6M244.7 114h6.6M241.7 107h6.6M248.7 107h6.6M225.7 167h6.6M223.7 174h6.6M231.7 172h6.6M235.7 174h6.6M242.7 172h6.6M248.7 160h6.6M250.7 141h6.6M250.7 166h6.6M227.7 116h6.6M215.7 117h6.6M219.7 120h6.6M216.7 127h6.6M237.7 117h6.6M224.7 120h6.6M182.7 130h6.6M190.7 151h6.6M184.7 139h6.6M178.7 130h6.6M258.7 107h6.6M269.7 107h6.6M272.7 108h6.6M267.7 112h6.6M285.7 112h6.6M294.7 112h6.6M254.7 116h6.6M271.7 121h6.6M270.7 127h6.6M288.7 122h6.6M293.7 121h6.6M295.7 120h6.6M293.7 126h6.6M300.7 130h6.6M306.7 121h6.6M320.7 107h6.6M329.7 108h6.6M336.7 108h6.6M340.7 109h6.6M344.7 110h6.6M339.7 115h6.6M349.7 113h6.6M353.7 115h6.6M355.7 106h6.6M369.7 107h6.6M380.7 123h6.6M359.7 129h6.6M369.7 127h6.6M254.7 140h6.6M254.7 144h6.6M263.7 146h6.6M290.7 139h6.6M293.7 146h6.6M291.7 153h6.6M318.7 143h6.6M323.7 141h6.6M328.7 136h6.6M334.7 139h6.6M339.7 146h6.6M334.7 148h6.6M342.7 133h6.6M341.7 136h6.6M358.7 136h6.6M362.7 141h6.6M367.7 142h6.6M369.7 136h6.6M351.7 144h6.6M348.7 150h6.6M364.7 150h6.6M268.7 153h6.6M300.7 153h6.6M284.7 156h6.6M288.7 156h6.6M289.7 160h6.6M293.7 160h6.6M282.7 162h6.6M309.7 155h6.6M321.7 153h6.6M257.7 162h6.6M254.7 166h6.6M259.7 165h6.6M277.7 178h6.6M288.7 176h6.6M304.7 177h6.6M309.7 172h6.6M316.7 174h6.6M318.7 177h6.6M318.7 178h6.6M323.7 163h6.6M321.7 168h6.6M328.7 160h6.6M331.7 164h6.6M329.7 169h6.6M325.7 180h6.6M339.7 162h6.6M350.7 165h6.6M344.7 178h6.6M348.7 185h6.6M345.7 187h6.6M316.7 184h6.6M313.7 188h6.6M265.7 183h6.6M270.7 188h6.6M274.7 190h6.6M281.7 188h6.6M323.7 193h6.6M332.7 194h6.6M337.7 194h6.6M369.7 172h6.6M374.7 179h6.6M374.7 183h6.6M370.7 188h6.6M362.7 190h6.6M373.7 193h6.6M380.7 197h6.6M387.7 188h6.6M367.7 160h6.6M372.7 157h6.6M386.7 157h6.6M256.7 199h6.6M392.7 108h6.6M395.7 109h6.6M418.7 107h6.6M404.7 116h6.6M418.7 125h6.6M417.7 131h6.6M404.7 130h6.6M404.7 143h6.6M415.7 141h6.6M425.7 150h6.6M424.7 154h6.6M426.7 151h6.6M404.7 151h6.6M406.7 158h6.6M416.7 154h6.6M418.7 160h6.6M411.7 169h6.6M396.7 169h6.6M397.7 177h6.6M404.7 172h6.6M408.7 176h6.6M422.7 178h6.6M432.7 183h6.6M415.7 185h6.6M390.7 190h6.6M393.7 190h6.6M398.7 190h6.6M438.7 120h6.6M433.7 141h6.6M435.7 138h6.6M487.7 107h6.6M501.7 108h6.6M491.7 127h6.6M451.7 142h6.6M478.7 142h6.6M472.7 147h6.6M469.7 150h6.6M491.7 146h6.6M494.7 144h6.6M501.7 136h6.6M516.7 116h6.6M520.7 117h6.6M524.7 114h6.6M518.7 156h6.6M472.7 160h6.6M461.7 162h6.6M496.7 160h6.6M501.7 163h6.6M518.7 165h6.6M484.7 166h6.6M486.7 171h6.6M481.7 175h6.6M469.7 171h6.6M462.7 173h6.6M477.7 173h6.6M484.7 172h6.6M491.7 169h6.6M442.7 178h6.6M528.7 113h6.6M535.7 112h6.6M530.7 121h6.6M554.7 118h6.6M553.7 121h6.6M558.7 120h6.6M562.7 120h6.6M549.7 125h6.6M544.7 126h6.6M571.7 121h6.6M575.7 112h6.6M582.7 112h6.6M607.7 136h6.6M531.7 155h6.6M158.7 209h6.6M193.7 209h6.6M225.7 206h6.6M229.7 209h6.6M249.7 213h6.6M158.7 213h6.6M163.7 218h6.6M157.7 221h6.6M156.7 222h6.6M221.7 220h6.6M225.7 220h6.6M214.7 225h6.6M224.7 228h6.6M244.7 220h6.6M162.7 243h6.6M177.7 252h6.6M162.7 255h6.6M163.7 257h6.6M161.7 264h6.6M178.7 265h6.6M177.7 268h6.6M242.7 266h6.6M174.7 275h6.6M174.7 286h6.6M173.7 287h6.6M190.7 285h6.6M219.7 286h6.6M177.7 292h6.6M197.7 294h6.6M235.7 296h6.6M249.7 294h6.6M255.7 202h6.6M252.7 213h6.6M270.7 213h6.6M267.7 227h6.6M263.7 236h6.6M260.7 246h6.6M258.7 252h6.6M260.7 262h6.6M260.7 264h6.6M260.7 268h6.6M274.7 278h6.6M329.7 229h6.6M258.7 282h6.6M258.7 290h6.6M271.7 290h6.6M271.7 292h6.6M339.7 209h6.6M351.7 206h6.6M358.7 204h6.6M364.7 210h6.6M369.7 209h6.6M348.7 218h6.6M353.7 218h6.6M380.7 239h6.6M404.7 204h6.6M406.7 246h6.6M429.7 298h6.6M124.7 310h6.6M154.7 324h6.6M177.7 306h6.6M190.7 301h6.6M193.7 304h6.6M188.7 308h6.6M190.7 313h6.6M194.7 312h6.6M212.7 303h6.6M211.7 322h6.6M200.7 325h6.6M219.7 300h6.6M229.7 301h6.6M234.7 303h6.6M225.7 306h6.6M229.7 308h6.6M232.7 312h6.6M230.7 315h6.6M235.7 315h6.6M239.7 314h6.6M245.7 306h6.6M246.7 311h6.6M224.7 324h6.6M232.7 322h6.6M237.7 325h6.6M242.7 326h6.6M189.7 334h6.6M161.7 338h6.6M200.7 339h6.6M189.7 345h6.6M208.7 358h6.6M212.7 361h6.6M215.7 357h6.6M217.7 361h6.6M246.7 349h6.6M242.7 364h6.6M242.7 369h6.6M251.7 306h6.6M251.7 310h6.6M258.7 312h6.6M260.7 326h6.6M390.7 192h6.6M401.7 190h6.6M412.7 195h6.6" stroke="#ff7f0e" stroke-width="2" stroke-opacity="0.6" fill="none"/><path d="M202 10.7v6.6M209 12.7v6.6M241 8.7v6.6M251 7.7v6.6M160 15.7v6.6M196 19.7v6.6M232 15.7v6.6M241 12.7v6.6M154 19.7v6.6M170 22.7v6.6M214 19.7v6.6M194 24.7v6.6M137 26.7v6.6M162 24.7v6.6M177 26.7v6.6M209 26.7v6.6M121 31.7v6.6M137 30.7v6.6M158 34.7v6.6M202 35.7v6.6M228 33.7v6.6M230 31.7v6.6M226 36.7v6.6M251 36.7v6.6M120 41.7v6.6M169 40.7v6.6M197 40.7v6.6M193 47.7v6.6M148 45.7v6.6M120 45.7v6.6M137 48.7v6.6M162 49.7v6.6M168 52.7v6.6M218 49.7v6.6M236 48.7v6.6M140 54.7v6.6M177 56.7v6.6M200 56.7v6.6M206 60.7v6.6M211 61.7v6.6M227 61.7v6.6M236 57.7v6.6M234 64.7v6.6M119 65.7v6.6M160 66.7v6.6M212 65.7v6.6M220 68.7v6.6M224 70.7v6.6M162 70.7v6.6M130 74.7v6.6M170 75.7v6.6M195 70.7v6.6M221 74.7v6.6M228 74.7v6.6M121 77.7v6.6M158 79.7v6.6M161 79.7v6.6M179 80.7v6.6M188 77.7v6.6M214 79.7v6.6M216 82.7v6.6M125 84.7v6.6M194 84.7v6.6M195 89.7v6.6M253 84.7v6.6M134 96.7v6.6M158 92.7v6.6M194 96.7v6.6M201 94.7v6.6M206 97.7v6.6M239 93.7v6.6M246 97.7v6.6M252 99.7v6.6M120 44.7v6.6M122 66.7v6.6M119 59.7v6.6M121 76.7v6.6M313 6.7v6.6M274 12.7v6.6M309 11.7v6.6M310 15.7v6.6M384 8.7v6.6M380 11.7v6.6M384 12.7v6.6M258 22.7v6.6M257 25.7v6.6M321 19.7v6.6M336 22.7v6.6M359 19.7v6.6M371 17.7v6.6M382 19.7v6.6M373 24.7v6.6M371 26.7v6.6M317 26.7v6.6M357 30.7v6.6M309 36.7v6.6M320 33.7v6.6M317 38.7v6.6M304 38.7v6.6M387 36.7v6.6M378 38.7v6.6M392 42.7v6.6M320 45.7v6.6M320 49.7v6.6M331 49.7v6.6M345 48.7v6.6M368 52.7v6.6M316 54.7v6.6M281 56.7v6.6M340 59.7v6.6M379 59.7v6.6M390 59.7v6.6M258 60.7v6.6M262 61.7v6.6M263 65.7v6.6M265 69.7v6.6M268 70.7v6.6M274 65.7v6.6M278 65.7v6.6M304 64.7v6.6M362 63.7v6.6M324 72.7v6.6M321 73.7v6.6M304 73.7v6.6M309 73.7v6.6M362 74.7v6.6M363 78.7v6.6M343 73.7v6.6M384 72.7v6.6M264 84.7v6.6M271 86.7v6.6M310 79.7v6.6M306 80.7v6.6M315 77.7v6.6M350 84.7v6.6M340 88.7v6.6M373 87.7v6.6M259 91.7v6.6M264 94.7v6.6M260 97.7v6.6M298 94.7v6.6M326 92.7v6.6M324 94.7v6.6M356 93.7v6.6M364 91.7v6.6M368 92.7v6.6M378 94.7v6.6M381 97.7v6.6M391 93.7v6.6M417 10.7v6.6M424 8.7v6.6M430 7.7v6.6M525 11.7v6.6M426 17.7v6.6M472 21.7v6.6M482 17.7v6.6M488 24.7v6.6M484 26.7v6.6M479 28.7v6.6M502 21.7v6.6M514 17.7v6.6M516 29.7v6.6M401 36.7v6.6M424 31.7v6.6M419 36.7v6.6M433 33.7v6.6M394 42.7v6.6M433 42.7v6.6M502 36.7v6.6M504 38.7v6.6M519 42.7v6.6M523 40.7v6.6M530 47.7v6.6M452 50.7v6.6M412 54.7v6.6M413 57.7v6.6M418 59.7v6.6M444 54.7v6.6M482 52.7v6.6M505 54.7v6.6M507 59.7v6.6M452 60.7v6.6M454 59.7v6.6M410 66.7v6.6M401 68.7v6.6M437 64.7v6.6M470 64.7v6.6M480 68.7v6.6M498 60.7v6.6M522 64.7v6.6M521 65.7v6.6M446 72.7v6.6M396 82.7v6.6M413 79.7v6.6M463 81.7v6.6M491 77.7v6.6M500 77.7v6.6M526 72.7v6.6M430 83.7v6.6M482 84.7v6.6M484 88.7v6.6M494 86.7v6.6M495 88.7v6.6M498 88.7v6.6M511 83.7v6.6M407 89.7v6.6M400 93.7v6.6M405 93.7v6.6M413 92.7v6.6M415 94.7v6.6M425 93.7v6.6M434 92.7v6.6M446 93.7v6.6M451 93.7v6.6M480 91.7v6.6M486 91.7v6.6M494 92.7v6.6M482 94.7v6.6M459 98.7v6.6M470 100.7v6.6M516 99.7v6.6M641 7.7v6.6M659 7.7v6.6M655 12.7v6.6M657 17.7v6.6M666 14.7v6.6M539 17.7v6.6M646 14.7v6.6M574 19.7v6.6M558 26.7v6.6M639 21.7v6.6M660 30.7v6.6M579 29.7v6.6M552 32.7v6.6M556 35.7v6.6M562 37.7v6.6M545 43.7v6.6M532 48.7v6.6M548 49.7v6.6M582 53.7v6.6M645 49.7v6.6M592 53.7v6.6M564 59.7v6.6M568 60.7v6.6M565 64.7v6.6M569 62.7v6.6M602 61.7v6.6M600 64.7v6.6M623 65.7v6.6M627 70.7v6.6M638 71.7v6.6M639 73.7v6.6M651 61.7v6.6M658 65.7v6.6M579 72.7v6.6M566 77.7v6.6M604 74.7v6.6M612 83.7v6.6M614 82.7v6.6M660 75.7v6.6M560 88.7v6.6M551 91.7v6.6M572 98.7v6.6M672 8.7v6.6M677 7.7v6.6M682 7.7v6.6M688 12.7v6.6M700 15.7v6.6M676 17.7v6.6M684 20.7v6.6M792 19.7v6.6M690 26.7v6.6M681 30.7v6.6M685 31.7v6.6M674 34.7v6.6M787 40.7v6.6M132 110.7v6.6M143 141.7v6.6M143 145.7v6.6M153 104.7v6.6M162 103.7v6.6M168 107.7v6.6M167 122.7v6.6M158 128.7v6.6M158 132.7v6.6M167 131.7v6.6M172 131.7v6.6M160 146.7v6.6M174 140.7v6.6M172 152.7v6.6M175 152.7v6.6M156 172.7v6.6M172 174.7v6.6M155 179.7v6.6M161 186.7v6.6M170 189.7v6.6M175 189.7v6.6M162 194.7v6.6M183 149.7v6.6M183 163.7v6.6M185 110.7v6.6M183 126.7v6.6M188 128.7v6.6M187 133.7v6.6M190 136.7v6.6M193 141.7v6.6M192 144.7v6.6M198 127.7v6.6M193 105.7v6.6M206 112.7v6.6M206 118.7v6.6M209 104.7v6.6M209 138.7v6.6M200 173.7v6.6M204 179.7v6.6M208 174.7v6.6M212 174.7v6.6M206 156.7v6.6M212 156.7v6.6M209 161.7v6.6M214 168.7v6.6M218 147.7v6.6M224 103.7v6.6M223 116.7v6.6M226 115.7v6.6M225 122.7v6.6M232 128.7v6.6M236 135.7v6.6M236 117.7v6.6M240 118.7v6.6M244 117.7v6.6M247 121.7v6.6M250 123.7v6.6M252 118.7v6.6M248 110.7v6.6M245 103.7v6.6M252 103.7v6.6M229 163.7v6.6M227 170.7v6.6M235 168.7v6.6M239 170.7v6.6M246 168.7v6.6M252 156.7v6.6M254 137.7v6.6M254 162.7v6.6M231 112.7v6.6M219 113.7v6.6M223 116.7v6.6M220 123.7v6.6M241 113.7v6.6M228 116.7v6.6M186 126.7v6.6M194 147.7v6.6M188 135.7v6.6M182 126.7v6.6M262 103.7v6.6M273 103.7v6.6M276 104.7v6.6M271 108.7v6.6M289 108.7v6.6M298 108.7v6.6M258 112.7v6.6M275 117.7v6.6M274 123.7v6.6M292 118.7v6.6M297 117.7v6.6M299 116.7v6.6M297 122.7v6.6M304 126.7v6.6M310 117.7v6.6M324 103.7v6.6M333 104.7v6.6M340 104.7v6.6M344 105.7v6.6M348 106.7v6.6M343 111.7v6.6M353 109.7v6.6M357 111.7v6.6M359 102.7v6.6M373 103.7v6.6M384 119.7v6.6M363 125.7v6.6M373 123.7v6.6M258 136.7v6.6M258 140.7v6.6M267 142.7v6.6M294 135.7v6.6M297 142.7v6.6M295 149.7v6.6M322 139.7v6.6M327 137.7v6.6M332 132.7v6.6M338 135.7v6.6M343 142.7v6.6M338 144.7v6.6M346 129.7v6.6M345 132.7v6.6M362 132.7v6.6M366 137.7v6.6M371 138.7v6.6M373 132.7v6.6M355 140.7v6.6M352 146.7v6.6M368 146.7v6.6M272 149.7v6.6M304 149.7v6.6M288 152.7v6.6M292 152.7v6.6M293 156.7v6.6M297 156.7v6.6M286 158.7v6.6M313 151.7v6.6M325 149.7v6.6M261 158.7v6.6M258 162.7v6.6M263 161.7v6.6M281 174.7v6.6M292 172.7v6.6M308 173.7v6.6M313 168.7v6.6M320 170.7v6.6M322 173.7v6.6M322 174.7v6.6M327 159.7v6.6M325 164.7v6.6M332 156.7v6.6M335 160.7v6.6M333 165.7v6.6M329 176.7v6.6M343 158.7v6.6M354 161.7v6.6M348 174.7v6.6M352 181.7v6.6M349 183.7v6.6M320 180.7v6.6M317 184.7v6.6M269 179.7v6.6M274 184.7v6.6M278 186.7v6.6M285 184.7v6.6M327 189.7v6.6M336 190.7v6.6M341 190.7v6.6M373 168.7v6.6M378 175.7v6.6M378 179.7v6.6M374 184.7v6.6M366 186.7v6.6M377 189.7v6.6M384 193.7v6.6M391 184.7v6.6M371 156.7v6.6M376 153.7v6.6M390 153.7v6.6M260 195.7v6.6M396 104.7v6.6M399 105.7v6.6M422 103.7v6.6M408 112.7v6.6M422 121.7v6.6M421 127.7v6.6M408 126.7v6.6M408 139.7v6.6M419 137.7v6.6M429 146.7v6.6M428 150.7v6.6M430 147.7v6.6M408 147.7v6.6M410 154.7v6.6M420 150.7v6.6M422 156.7v6.6M415 165.7v6.6M400 165.7v6.6M401 173.7v6.6M408 168.7v6.6M412 172.7v6.6M426 174.7v6.6M436 179.7v6.6M419 181.7v6.6M394 186.7v6.6M397 186.7v6.6M402 186.7v6.6M442 116.7v6.6M437 137.7v6.6M439 134.7v6.6M491 103.7v6.6M505 104.7v6.6M495 123.7v6.6M455 138.7v6.6M482 138.7v6.6M476 143.7v6.6M473 146.7v6.6M495 142.7v6.6M498 140.7v6.6M505 132.7v6.6M520 112.7v6.6M524 113.7v6.6M528 110.7v6.6M522 152.7v6.6M476 156.7v6.6M465 158.7v6.6M500 156.7v6.6M505 159.7v6.6M522 161.7v6.6M488 162.7v6.6M490 167.7v6.6M485 171.7v6.6M473 167.7v6.6M466 169.7v6.6M481 169.7v6.6M488 168.7v6.6M495 165.7v6.6M446 174.7v6.6M532 109.7v6.6M539 108.7v6.6M534 117.7v6.6M558 114.7v6.6M557 117.7v6.6M562 116.7v6.6M566 116.7v6.6M553 121.7v6.6M548 122.7v6.6M575 117.7v6.6M579 108.7v6.6M586 108.7v6.6M611 132.7v6.6M535 151.7v6.6M162 205.7v6.6M197 205.7v6.6M229 202.7v6.6M233 205.7v6.6M253 209.7v6.6M162 209.7v6.6M167 214.7v6.6M161 217.7v6.6M160 218.7v6.6M225 216.7v6.6M229 216.7v6.6M218 221.7v6.6M228 224.7v6.6M248 216.7v6.6M166 239.7v6.6M181 248.7v6.6M166 251.7v6.6M167 253.7v6.6M165 260.7v6.6M182 261.7v6.6M181 264.7v6.6M246 262.7v6.6M178 271.7v6.6M178 282.7v6.6M177 283.7v6.6M194 281.7v6.6M223 282.7v6.6M181 288.7v6.6M201 290.7v6.6M239 292.7v6.6M253 290.7v6.6M259 198.7v6.6M256 209.7v6.6M274 209.7v6.6M271 223.7v6.6M267 232.7v6.6M264 242.7v6.6M262 248.7v6.6M264 258.7v6.6M264 260.7v6.6M264 264.7v6.6M278 274.7v6.6M333 225.7v6.6M262 278.7v6.6M262 286.7v6.6M275 286.7v6.6M275 288.7v6.6M343 205.7v6.6M355 202.7v6.6M362 200.7v6.6M368 206.7v6.6M373 205.7v6.6M352 214.7v6.6M357 214.7v6.6M384 235.7v6.6M408 200.7v6.6M410 242.7v6.6M433 294.7v6.6M128 306.7v6.6M158 320.7v6.6M181 302.7v6.6M194 297.7v6.6M197 300.7v6.6M192 304.7v6.6M194 309.7v6.6M198 308.7v6.6M216 299.7v6.6M215 318.7v6.6M204 321.7v6.6M223 296.7v6.6M233 297.7v6.6M238 299.7v6.6M229 302.7v6.6M233 304.7v6.6M236 308.7v6.6M234 311.7v6.6M239 311.7v6.6M243 310.7v6.6M249 302.7v6.6M250 307.7v6.6M228 320.7v6.6M236 318.7v6.6M241 321.7v6.6M246 322.7v6.6M193 330.7v6.6M165 334.7v6.6M204 335.7v6.6M193 341.7v6.6M212 354.7v6.6M216 357.7v6.6M219 353.7v6.6M221 357.7v6.6M250 345.7v6.6M246 360.7v6.6M246 365.7v6.6M255 302.7v6.6M255 306.7v6.6M262 308.7v6.6M264 322.7v6.6M394 188.7v6.6M405 186.7v6.6M416 191.7v6.6" stroke="#ff7f0e" stroke-width="2" stroke-opacity="0.6" fill="none"/><path d="M201 14h2M208 16h2M240 12h2M250 11h2M159 19h2M195 23h2M231 19h2M240 16h2M153 23h2M169 26h2M213 23h2M193 28h2M136 30h2M161 28h2M176 30h2M208 30h2M120 35h2M136 34h2M157 38h2M201 39h2M227 37h2M229 35h2M225 40h2M250 40h2M119 45h2M168 44h2M196 44h2M192 51h2M147 49h2M119 49h2M136 52h2M161 53h2M167 56h2M217 53h2M235 52h2M139 58h2M176 60h2M199 60h2M205 64h2M210 65h2M226 65h2M235 61h2M233 68h2M118 69h2M159 70h2M211 69h2M219 72h2M223 74h2M161 74h2M129 78h2M169 79h2M194 74h2M220 78h2M227 78h2M120 81h2M157 83h2M160 83h2M178 84h2M187 81h2M213 83h2M215 86h2M124 88h2M193 88h2M194 93h2M252 88h2M133 100h2M157 96h2M193 100h2M200 98h2M205 101h2M238 97h2M245 101h2M251 103h2M119 48h2M121 70h2M118 63h2M120 80h2M312 10h2M273 16h2M308 15h2M309 19h2M383 12h2M379 15h2M383 16h2M257 26h2M256 29h2M320 23h2M335 26h2M358 23h2M370 21h2M381 23h2M372 28h2M370 30h2M316 30h2M356 34h2M308 40h2M319 37h2M316 42h2M303 42h2M386 40h2M377 42h2M391 46h2M319 49h2M319 53h2M330 53h2M344 52h2M367 56h2M315 58h2M280 60h2M339 63h2M378 63h2M389 63h2M257 64h2M261 65h2M262 69h2M264 73h2M267 74h2M273 69h2M277 69h2M303 68h2M361 67h2M323 76h2M320 77h2M303 77h2M308 77h2M361 78h2M362 82h2M342 77h2M383 76h2M263 88h2M270 90h2M309 83h2M305 84h2M314 81h2M349 88h2M339 92h2M372 91h2M258 95h2M263 98h2M259 101h2M297 98h2M325 96h2M323 98h2M355 97h2M363 95h2M367 96h2M377 98h2M380 101h2M390 97h2M416 14h2M423 12h2M429 11h2M524 15h2M425 21h2M471 25h2M481 21h2M487 28h2M483 30h2M478 32h2M501 25h2M513 21h2M515 33h2M400 40h2M423 35h2M418 40h2M432 37h2M393 46h2M432 46h2M501 40h2M503 42h2M518 46h2M522 44h2M529 51h2M451 54h2M411 58h2M412 61h2M417 63h2M443 58h2M481 56h2M504 58h2M506 63h2M451 64h2M453 63h2M409 70h2M400 72h2M436 68h2M469 68h2M479 72h2M497 64h2M521 68h2M520 69h2M445 76h2M395 86h2M412 83h2M462 85h2M490 81h2M499 81h2M525 76h2M429 87h2M481 88h2M483 92h2M493 90h2M494 92h2M497 92h2M510 87h2M406 93h2M399 97h2M404 97h2M412 96h2M414 98h2M424 97h2M433 96h2M445 97h2M450 97h2M479 95h2M485 95h2M493 96h2M481 98h2M458 102h2M469 104h2M515 103h2M640 11h2M658 11h2M654 16h2M656 21h2M665 18h2M538 21h2M645 18h2M573 23h2M557 30h2M638 25h2M659 34h2M578 33h2M551 36h2M555 39h2M561 41h2M544 47h2M531 52h2M547 53h2M581 57h2M644 53h2M591 57h2M563 63h2M567 64h2M564 68h2M568 66h2M601 65h2M599 68h2M622 69h2M626 74h2M637 75h2M638 77h2M650 65h2M657 69h2M578 76h2M565 81h2M603 78h2M611 87h2M613 86h2M659 79h2M559 92h2M550 95h2M571 102h2M671 12h2M676 11h2M681 11h2M687 16h2M699 19h2M675 21h2M683 24h2M791 23h2M689 30h2M680 34h2M684 35h2M673 38h2M786 44h2M131 114h2M142 145h2M142 149h2M152 108h2M161 107h2M167 111h2M166 126h2M157 132h2M157 136h2M166 135h2M171 135h2M159 150h2M173 144h2M171 156h2M174 156h2M155 176h2M171 178h2M154 183h2M160 190h2M169 193h2M174 193h2M161 198h2M182 153h2M182 167h2M184 114h2M182 130h2M187 132h2M186 137h2M189 140h2M192 145h2M191 148h2M197 131h2M192 109h2M205 116h2M205 122h2M208 108h2M208 142h2M199 177h2M203 183h2M207 178h2M211 178h2M205 160h2M211 160h2M208 165h2M213 172h2M217 151h2M223 107h2M222 120h2M225 119h2M224 126h2M231 132h2M235 139h2M235 121h2M239 122h2M243 121h2M246 125h2M249 127h2M251 122h2M247 114h2M244 107h2M251 107h2M228 167h2M226 174h2M234 172h2M238 174h2M245 172h2M251 160h2M253 141h2M253 166h2M230 116h2M218 117h2M222 120h2M219 127h2M240 117h2M227 120h2M185 130h2M193 151h2M187 139h2M181 130h2M261 107h2M272 107h2M275 108h2M270 112h2M288 112h2M297 112h2M257 116h2M274 121h2M273 127h2M291 122h2M296 121h2M298 120h2M296 126h2M303 130h2M309 121h2M323 107h2M332 108h2M339 108h2M343 109h2M347 110h2M342 115h2M352 113h2M356 115h2M358 106h2M372 107h2M383 123h2M362 129h2M372 127h2M257 140h2M257 144h2M266 146h2M293 139h2M296 146h2M294 153h2M321 143h2M326 141h2M331 136h2M337 139h2M342 146h2M337 148h2M345 133h2M344 136h2M361 136h2M365 141h2M370 142h2M372 136h2M354 144h2M351 150h2M367 150h2M271 153h2M303 153h2M287 156h2M291 156h2M292 160h2M296 160h2M285 162h2M312 155h2M324 153h2M260 162h2M257 166h2M262 165h2M280 178h2M291 176h2M307 177h2M312 172h2M319 174h2M321 177h2M321 178h2M326 163h2M324 168h2M331 160h2M334 164h2M332 169h2M328 180h2M342 162h2M353 165h2M347 178h2M351 185h2M348 187h2M319 184h2M316 188h2M268 183h2M273 188h2M277 190h2M284 188h2M326 193h2M335 194h2M340 194h2M372 172h2M377 179h2M377 183h2M373 188h2M365 190h2M376 193h2M383 197h2M390 188h2M370 160h2M375 157h2M389 157h2M259 199h2M395 108h2M398 109h2M421 107h2M407 116h2M421 125h2M420 131h2M407 130h2M407 143h2M418 141h2M428 150h2M427 154h2M429 151h2M407 151h2M409 158h2M419 154h2M421 160h2M414 169h2M399 169h2M400 177h2M407 172h2M411 176h2M425 178h2M435 183h2M418 185h2M393 190h2M396 190h2M401 190h2M441 120h2M436 141h2M438 138h2M490 107h2M504 108h2M494 127h2M454 142h2M481 142h2M475 147h2M472 150h2M494 146h2M497 144h2M504 136h2M519 116h2M523 117h2M527 114h2M521 156h2M475 160h2M464 162h2M499 160h2M504 163h2M521 165h2M487 166h2M489 171h2M484 175h2M472 171h2M465 173h2M480 173h2M487 172h2M494 169h2M445 178h2M531 113h2M538 112h2M533 121h2M557 118h2M556 121h2M561 120h2M565 120h2M552 125h2M547 126h2M574 121h2M578 112h2M585 112h2M610 136h2M534 155h2M161 209h2M196 209h2M228 206h2M232 209h2M252 213h2M161 213h2M166 218h2M160 221h2M159 222h2M224 220h2M228 220h2M217 225h2M227 228h2M247 220h2M165 243h2M180 252h2M165 255h2M166 257h2M164 264h2M181 265h2M180 268h2M245 266h2M177 275h2M177 286h2M176 287h2M193 285h2M222 286h2M180 292h2M200 294h2M238 296h2M252 294h2M258 202h2M255 213h2M273 213h2M270 227h2M266 236h2M263 246h2M261 252h2M263 262h2M263 264h2M263 268h2M277 278h2M332 229h2M261 282h2M261 290h2M274 290h2M274 292h2M342 209h2M354 206h2M361 204h2M367 210h2M372 209h2M351 218h2M356 218h2M383 239h2M407 204h2M409 246h2M432 298h2M127 310h2M157 324h2M180 306h2M193 301h2M196 304h2M191 308h2M193 313h2M197 312h2M215 303h2M214 322h2M203 325h2M222 300h2M232 301h2M237 303h2M228 306h2M232 308h2M235 312h2M233 315h2M238 315h2M242 314h2M248 306h2M249 311h2M227 324h2M235 322h2M240 325h2M245 326h2M192 334h2M164 338h2M203 339h2M192 345h2M211 358h2M215 361h2M218 357h2M220 361h2M249 349h2M245 364h2M245 369h2M254 306h2M254 310h2M261 312h2M263 326h2M393 192h2M404 190h2M415 195h2" stroke="#ff7f0e" stroke-width="2" stroke-opacity="0.95" fill="none"/><path d="M407.525 303h4.95M421.525 306h4.95" stroke="#ff7f0e" stroke-width="1.5" stroke-opacity="0.6" fill="none"/><path d="M410 300.525v4.95M424 303.525v4.95" stroke="#ff7f0e" stroke-width="1.5" stroke-opacity="0.6" fill="none"/><path d="M409 303h2M423 306h2" stroke="#ff7f0e" stroke-width="1.5" stroke-opacity="0.95" fill="none"/><path d="M196.7 91h6.6M182.7 103h6.6M351.7 16h6.6M360.7 16h6.6M358.7 25h6.6M353.7 28h6.6M351.7 37h6.6M351.7 49h6.6M374.7 72h6.6M339.7 88h6.6M367.7 86h6.6M372.7 83h6.6M297.7 95h6.6M290.7 104h6.6M376.7 96h6.6M435.7 10h6.6M480.7 15h6.6M510.7 11h6.6M522.7 16h6.6M473.7 25h6.6M445.7 30h6.6M496.7 30h6.6M515.7 26h6.6M397.7 46h6.6M438.7 44h6.6M443.7 41h6.6M473.7 40h6.6M487.7 38h6.6M471.7 46h6.6M499.7 44h6.6M518.7 49h6.6M425.7 58h6.6M455.7 59h6.6M457.7 54h6.6M467.7 57h6.6M471.7 57h6.6M478.7 60h6.6M490.7 58h6.6M494.7 56h6.6M506.7 60h6.6M413.7 68h6.6M409.7 74h6.6M438.7 72h6.6M491.7 67h6.6M498.7 69h6.6M522.7 73h6.6M457.7 74h6.6M390.7 83h6.6M452.7 81h6.6M448.7 86h6.6M457.7 88h6.6M491.7 78h6.6M517.7 76h6.6M519.7 83h6.6M522.7 87h6.6M432.7 88h6.6M510.7 90h6.6M508.7 95h6.6M512.7 92h6.6M424.7 102h6.6M429.7 101h6.6M524.7 99h6.6M542.7 14h6.6M537.7 16h6.6M556.7 11h6.6M561.7 11h6.6M580.7 15h6.6M564.7 20h6.6M588.7 16h6.6M584.7 11h6.6M598.7 13h6.6M607.7 11h6.6M626.7 16h6.6M648.7 11h6.6M660.7 16h6.6M621.7 20h6.6M584.7 27h6.6M552.7 28h6.6M559.7 29h6.6M563.7 28h6.6M595.7 30h6.6M602.7 28h6.6M623.7 28h6.6M649.7 25h6.6M651.7 30h6.6M629.7 35h6.6M533.7 40h6.6M544.7 40h6.6M549.7 46h6.6M575.7 40h6.6M590.7 37h6.6M600.7 41h6.6M610.7 38h6.6M610.7 40h6.6M616.7 40h6.6M642.7 38h6.6M561.7 44h6.6M553.7 53h6.6M554.7 54h6.6M575.7 48h6.6M575.7 52h6.6M569.7 58h6.6M589.7 51h6.6M596.7 49h6.6M603.7 50h6.6M614.7 49h6.6M638.7 46h6.6M658.7 56h6.6M610.7 60h6.6M542.7 60h6.6M540.7 63h6.6M558.7 61h6.6M569.7 63h6.6M593.7 63h6.6M602.7 72h6.6M607.7 63h6.6M609.7 61h6.6M624.7 66h6.6M616.7 76h6.6M630.7 76h6.6M641.7 71h6.6M651.7 74h6.6M661.7 72h6.6M552.7 78h6.6M553.7 81h6.6M565.7 76h6.6M580.7 81h6.6M591.7 80h6.6M591.7 83h6.6M598.7 78h6.6M602.7 80h6.6M595.7 84h6.6M616.7 77h6.6M625.7 82h6.6M631.7 83h6.6M638.7 84h6.6M643.7 83h6.6M647.7 78h6.6M653.7 80h6.6M660.7 78h6.6M662.7 83h6.6M649.7 86h6.6M544.7 86h6.6M565.7 91h6.6M576.7 91h6.6M582.7 91h6.6M595.7 89h6.6M599.7 90h6.6M597.7 97h6.6M536.7 95h6.6M534.7 98h6.6M541.7 102h6.6M545.7 101h6.6M549.7 102h6.6M553.7 99h6.6M582.7 100h6.6M615.7 97h6.6M628.7 95h6.6M660.7 93h6.6M663.7 98h6.6M604.7 101h6.6M698.7 11h6.6M700.7 16h6.6M720.7 24h6.6M757.7 11h6.6M753.7 15h6.6M739.7 28h6.6M755.7 33h6.6M753.7 38h6.6M749.7 42h6.6M679.7 30h6.6M686.7 28h6.6M691.7 33h6.6M668.7 35h6.6M677.7 42h6.6M785.7 42h6.6M718.7 49h6.6M734.7 49h6.6M737.7 53h6.6M742.7 53h6.6M686.7 53h6.6M697.7 53h6.6M670.7 60h6.6M687.7 58h6.6M693.7 60h6.6M696.7 60h6.6M691.7 65h6.6M704.7 58h6.6M709.7 63h6.6M725.7 60h6.6M750.7 68h6.6M669.7 72h6.6M706.7 72h6.6M716.7 69h6.6M725.7 77h6.6M755.7 72h6.6M758.7 74h6.6M765.7 79h6.6M796.7 69h6.6M797.7 79h6.6M679.7 81h6.6M678.7 88h6.6M677.7 93h6.6M707.7 95h6.6M757.7 88h6.6M769.7 88h6.6M781.7 83h6.6M790.7 88h6.6M714.7 102h6.6M725.7 97h6.6M737.7 97h6.6M752.7 99h6.6M753.7 102h6.6M777.7 97h6.6M783.7 100h6.6M166.7 109h6.6M291.7 106h6.6M325.7 116h6.6M334.7 116h6.6M344.7 118h6.6M376.7 116h6.6M364.7 131h6.6M376.7 130h6.6M265.7 153h6.6M316.7 155h6.6M271.7 163h6.6M271.7 172h6.6M300.7 169h6.6M332.7 176h6.6M413.7 113h6.6M434.7 108h6.6M426.7 130h6.6M397.7 134h6.6M398.7 139h6.6M409.7 165h6.6M418.7 185h6.6M394.7 194h6.6M425.7 198h6.6M440.7 131h6.6M454.7 122h6.6M468.7 118h6.6M478.7 116h6.6M478.7 123h6.6M494.7 112h6.6M486.7 121h6.6M487.7 131h6.6M455.7 144h6.6M455.7 130h6.6M484.7 148h6.6M498.7 151h6.6M508.7 131h6.6M517.7 136h6.6M522.7 136h6.6M521.7 156h6.6M525.7 156h6.6M452.7 155h6.6M466.7 157h6.6M476.7 155h6.6M508.7 162h6.6M464.7 175h6.6M459.7 178h6.6M454.7 183h6.6M450.7 183h6.6M501.7 172h6.6M502.7 174h6.6M522.7 171h6.6M521.7 176h6.6M478.7 189h6.6M486.7 192h6.6M487.7 194h6.6M494.7 194h6.6M469.7 200h6.6M515.7 192h6.6M525.7 197h6.6M442.7 178h6.6M538.7 116h6.6M542.7 122h6.6M543.7 111h6.6M549.7 107h6.6M555.7 114h6.6M561.7 113h6.6M561.7 126h6.6M593.7 108h6.6M591.7 112h6.6M603.7 107h6.6M623.7 108h6.6M639.7 107h6.6M642.7 113h6.6M660.7 112h6.6M626.7 118h6.6M610.7 120h6.6M602.7 122h6.6M595.7 126h6.6M612.7 127h6.6M617.7 131h6.6M621.7 129h6.6M620.7 126h6.6M630.7 130h6.6M638.7 124h6.6M644.7 122h6.6M643.7 129h6.6M646.7 131h6.6M645.7 133h6.6M651.7 126h6.6M651.7 119h6.6M660.7 120h6.6M656.7 131h6.6M652.7 136h6.6M658.7 132h6.6M582.7 134h6.6M583.7 136h6.6M582.7 142h6.6M591.7 143h6.6M587.7 148h6.6M568.7 141h6.6M552.7 141h6.6M530.7 141h6.6M540.7 150h6.6M543.7 153h6.6M552.7 154h6.6M547.7 158h6.6M552.7 158h6.6M561.7 155h6.6M563.7 160h6.6M573.7 160h6.6M587.7 158h6.6M596.7 155h6.6M528.7 160h6.6M538.7 160h6.6M542.7 163h6.6M533.7 170h6.6M553.7 174h6.6M593.7 172h6.6M612.7 150h6.6M612.7 148h6.6M607.7 162h6.6M607.7 166h6.6M623.7 164h6.6M628.7 160h6.6M634.7 146h6.6M639.7 143h6.6M600.7 183h6.6M623.7 185h6.6M651.7 188h6.6M545.7 188h6.6M558.7 188h6.6M556.7 190h6.6M577.7 193h6.6M602.7 200h6.6M623.7 199h6.6M677.7 107h6.6M695.7 111h6.6M708.7 114h6.6M714.7 109h6.6M734.7 111h6.6M746.7 107h6.6M749.7 114h6.6M749.7 116h6.6M769.7 111h6.6M778.7 108h6.6M781.7 109h6.6M785.7 114h6.6M786.7 115h6.6M799.7 109h6.6M672.7 121h6.6M675.7 124h6.6M678.7 126h6.6M680.7 127h6.6M695.7 127h6.6M670.7 133h6.6M672.7 133h6.6M680.7 135h6.6M714.7 131h6.6M732.7 127h6.6M739.7 120h6.6M760.7 126h6.6M767.7 120h6.6M770.7 119h6.6M783.7 123h6.6M764.7 132h6.6M762.7 135h6.6M761.7 140h6.6M766.7 139h6.6M760.7 144h6.6M681.7 146h6.6M697.7 146h6.6M723.7 150h6.6M743.7 148h6.6M757.7 150h6.6M679.7 158h6.6M741.7 157h6.6M746.7 161h6.6M749.7 160h6.6M757.7 158h6.6M730.7 162h6.6M725.7 169h6.6M715.7 169h6.6M714.7 172h6.6M765.7 166h6.6M790.7 165h6.6M781.7 172h6.6M674.7 176h6.6M681.7 181h6.6M741.7 176h6.6M723.7 181h6.6M732.7 181h6.6M723.7 185h6.6M702.7 185h6.6M704.7 192h6.6M727.7 190h6.6M734.7 190h6.6M766.7 188h6.6M797.7 183h6.6M674.7 193h6.6M674.7 196h6.6M684.7 198h6.6M688.7 197h6.6M692.7 199h6.6M719.7 199h6.6M737.7 200h6.6M785.7 197h6.6M795.7 199h6.6M468.7 203h6.6M524.7 204h6.6M404.7 215h6.6M408.7 217h6.6M478.7 213h6.6M471.7 220h6.6M415.7 229h6.6M490.7 232h6.6M507.7 234h6.6M484.7 243h6.6M501.7 259h6.6M519.7 266h6.6M549.7 206h6.6M557.7 209h6.6M561.7 206h6.6M564.7 209h6.6M600.7 203h6.6M621.7 204h6.6M628.7 205h6.6M662.7 209h6.6M598.7 210h6.6M549.7 220h6.6M555.7 223h6.6M558.7 225h6.6M561.7 222h6.6M566.7 218h6.6M584.7 218h6.6M582.7 221h6.6M582.7 224h6.6M588.7 228h6.6M594.7 228h6.6M596.7 228h6.6M603.7 232h6.6M616.7 232h6.6M619.7 222h6.6M637.7 225h6.6M646.7 216h6.6M646.7 221h6.6M653.7 218h6.6M565.7 232h6.6M595.7 236h6.6M547.7 239h6.6M531.7 243h6.6M570.7 243h6.6M553.7 248h6.6M557.7 248h6.6M533.7 255h6.6M579.7 255h6.6M635.7 239h6.6M644.7 236h6.6M633.7 246h6.6M651.7 246h6.6M662.7 243h6.6M628.7 252h6.6M632.7 257h6.6M634.7 260h6.6M645.7 252h6.6M647.7 250h6.6M623.7 259h6.6M570.7 262h6.6M573.7 264h6.6M619.7 264h6.6M604.7 266h6.6M584.7 268h6.6M588.7 271h6.6M547.7 271h6.6M558.7 278h6.6M619.7 273h6.6M604.7 280h6.6M589.7 282h6.6M638.7 280h6.6M651.7 278h6.6M663.7 275h6.6M614.7 290h6.6M626.7 287h6.6M397.7 195h6.6M400.7 195h6.6" stroke="#2ca02c" stroke-width="2" stroke-opacity="0.6" fill="none"/><path d="M200 87.7v6.6M186 99.7v6.6M355 12.7v6.6M364 12.7v6.6M362 21.7v6.6M357 24.7v6.6M355 33.7v6.6M355 45.7v6.6M378 68.7v6.6M343 84.7v6.6M371 82.7v6.6M376 79.7v6.6M301 91.7v6.6M294 100.7v6.6M380 92.7v6.6M439 6.7v6.6M484 11.7v6.6M514 7.7v6.6M526 12.7v6.6M477 21.7v6.6M449 26.7v6.6M500 26.7v6.6M519 22.7v6.6M401 42.7v6.6M442 40.7v6.6M447 37.7v6.6M477 36.7v6.6M491 34.7v6.6M475 42.7v6.6M503 40.7v6.6M522 45.7v6.6M429 54.7v6.6M459 55.7v6.6M461 50.7v6.6M471 53.7v6.6M475 53.7v6.6M482 56.7v6.6M494 54.7v6.6M498 52.7v6.6M510 56.7v6.6M417 64.7v6.6M413 70.7v6.6M442 68.7v6.6M495 63.7v6.6M502 65.7v6.6M526 69.7v6.6M461 70.7v6.6M394 79.7v6.6M456 77.7v6.6M452 82.7v6.6M461 84.7v6.6M495 74.7v6.6M521 72.7v6.6M523 79.7v6.6M526 83.7v6.6M436 84.7v6.6M514 86.7v6.6M512 91.7v6.6M516 88.7v6.6M428 98.7v6.6M433 97.7v6.6M528 95.7v6.6M546 10.7v6.6M541 12.7v6.6M560 7.7v6.6M565 7.7v6.6M584 11.7v6.6M568 16.7v6.6M592 12.7v6.6M588 7.7v6.6M602 9.7v6.6M611 7.7v6.6M630 12.7v6.6M652 7.7v6.6M664 12.7v6.6M625 16.7v6.6M588 23.7v6.6M556 24.7v6.6M563 25.7v6.6M567 24.7v6.6M599 26.7v6.6M606 24.7v6.6M627 24.7v6.6M653 21.7v6.6M655 26.7v6.6M633 31.7v6.6M537 36.7v6.6M548 36.7v6.6M553 42.7v6.6M579 36.7v6.6M594 33.7v6.6M604 37.7v6.6M614 34.7v6.6M614 36.7v6.6M620 36.7v6.6M646 34.7v6.6M565 40.7v6.6M557 49.7v6.6M558 50.7v6.6M579 44.7v6.6M579 48.7v6.6M573 54.7v6.6M593 47.7v6.6M600 45.7v6.6M607 46.7v6.6M618 45.7v6.6M642 42.7v6.6M662 52.7v6.6M614 56.7v6.6M546 56.7v6.6M544 59.7v6.6M562 57.7v6.6M573 59.7v6.6M597 59.7v6.6M606 68.7v6.6M611 59.7v6.6M613 57.7v6.6M628 62.7v6.6M620 72.7v6.6M634 72.7v6.6M645 67.7v6.6M655 70.7v6.6M665 68.7v6.6M556 74.7v6.6M557 77.7v6.6M569 72.7v6.6M584 77.7v6.6M595 76.7v6.6M595 79.7v6.6M602 74.7v6.6M606 76.7v6.6M599 80.7v6.6M620 73.7v6.6M629 78.7v6.6M635 79.7v6.6M642 80.7v6.6M647 79.7v6.6M651 74.7v6.6M657 76.7v6.6M664 74.7v6.6M666 79.7v6.6M653 82.7v6.6M548 82.7v6.6M569 87.7v6.6M580 87.7v6.6M586 87.7v6.6M599 85.7v6.6M603 86.7v6.6M601 93.7v6.6M540 91.7v6.6M538 94.7v6.6M545 98.7v6.6M549 97.7v6.6M553 98.7v6.6M557 95.7v6.6M586 96.7v6.6M619 93.7v6.6M632 91.7v6.6M664 89.7v6.6M667 94.7v6.6M608 97.7v6.6M702 7.7v6.6M704 12.7v6.6M724 20.7v6.6M761 7.7v6.6M757 11.7v6.6M743 24.7v6.6M759 29.7v6.6M757 34.7v6.6M753 38.7v6.6M683 26.7v6.6M690 24.7v6.6M695 29.7v6.6M672 31.7v6.6M681 38.7v6.6M789 38.7v6.6M722 45.7v6.6M738 45.7v6.6M741 49.7v6.6M746 49.7v6.6M690 49.7v6.6M701 49.7v6.6M674 56.7v6.6M691 54.7v6.6M697 56.7v6.6M700 56.7v6.6M695 61.7v6.6M708 54.7v6.6M713 59.7v6.6M729 56.7v6.6M754 64.7v6.6M673 68.7v6.6M710 68.7v6.6M720 65.7v6.6M729 73.7v6.6M759 68.7v6.6M762 70.7v6.6M769 75.7v6.6M800 65.7v6.6M801 75.7v6.6M683 77.7v6.6M682 84.7v6.6M681 89.7v6.6M711 91.7v6.6M761 84.7v6.6M773 84.7v6.6M785 79.7v6.6M794 84.7v6.6M718 98.7v6.6M729 93.7v6.6M741 93.7v6.6M756 95.7v6.6M757 98.7v6.6M781 93.7v6.6M787 96.7v6.6M170 105.7v6.6M295 102.7v6.6M329 112.7v6.6M338 112.7v6.6M348 114.7v6.6M380 112.7v6.6M368 127.7v6.6M380 126.7v6.6M269 149.7v6.6M320 151.7v6.6M275 159.7v6.6M275 168.7v6.6M304 165.7v6.6M336 172.7v6.6M417 109.7v6.6M438 104.7v6.6M430 126.7v6.6M401 130.7v6.6M402 135.7v6.6M413 161.7v6.6M422 181.7v6.6M398 190.7v6.6M429 194.7v6.6M444 127.7v6.6M458 118.7v6.6M472 114.7v6.6M482 112.7v6.6M482 119.7v6.6M498 108.7v6.6M490 117.7v6.6M491 127.7v6.6M459 140.7v6.6M459 126.7v6.6M488 144.7v6.6M502 147.7v6.6M512 127.7v6.6M521 132.7v6.6M526 132.7v6.6M525 152.7v6.6M529 152.7v6.6M456 151.7v6.6M470 153.7v6.6M480 151.7v6.6M512 158.7v6.6M468 171.7v6.6M463 174.7v6.6M458 179.7v6.6M454 179.7v6.6M505 168.7v6.6M506 170.7v6.6M526 167.7v6.6M525 172.7v6.6M482 185.7v6.6M490 188.7v6.6M491 190.7v6.6M498 190.7v6.6M473 196.7v6.6M519 188.7v6.6M529 193.7v6.6M446 174.7v6.6M542 112.7v6.6M546 118.7v6.6M547 107.7v6.6M553 103.7v6.6M559 110.7v6.6M565 109.7v6.6M565 122.7v6.6M597 104.7v6.6M595 108.7v6.6M607 103.7v6.6M627 104.7v6.6M643 103.7v6.6M646 109.7v6.6M664 108.7v6.6M630 114.7v6.6M614 116.7v6.6M606 118.7v6.6M599 122.7v6.6M616 123.7v6.6M621 127.7v6.6M625 125.7v6.6M624 122.7v6.6M634 126.7v6.6M642 120.7v6.6M648 118.7v6.6M647 125.7v6.6M650 127.7v6.6M649 129.7v6.6M655 122.7v6.6M655 115.7v6.6M664 116.7v6.6M660 127.7v6.6M656 132.7v6.6M662 128.7v6.6M586 130.7v6.6M587 132.7v6.6M586 138.7v6.6M595 139.7v6.6M591 144.7v6.6M572 137.7v6.6M556 137.7v6.6M534 137.7v6.6M544 146.7v6.6M547 149.7v6.6M556 150.7v6.6M551 154.7v6.6M556 154.7v6.6M565 151.7v6.6M567 156.7v6.6M577 156.7v6.6M591 154.7v6.6M600 151.7v6.6M532 156.7v6.6M542 156.7v6.6M546 159.7v6.6M537 166.7v6.6M557 170.7v6.6M597 168.7v6.6M616 146.7v6.6M616 144.7v6.6M611 158.7v6.6M611 162.7v6.6M627 160.7v6.6M632 156.7v6.6M638 142.7v6.6M643 139.7v6.6M604 179.7v6.6M627 181.7v6.6M655 184.7v6.6M549 184.7v6.6M562 184.7v6.6M560 186.7v6.6M581 189.7v6.6M606 196.7v6.6M627 195.7v6.6M681 103.7v6.6M699 107.7v6.6M712 110.7v6.6M718 105.7v6.6M738 107.7v6.6M750 103.7v6.6M753 110.7v6.6M753 112.7v6.6M773 107.7v6.6M782 104.7v6.6M785 105.7v6.6M789 110.7v6.6M790 111.7v6.6M803 105.7v6.6M676 117.7v6.6M679 120.7v6.6M682 122.7v6.6M684 123.7v6.6M699 123.7v6.6M674 129.7v6.6M676 129.7v6.6M684 131.7v6.6M718 127.7v6.6M736 123.7v6.6M743 116.7v6.6M764 122.7v6.6M771 116.7v6.6M774 115.7v6.6M787 119.7v6.6M768 128.7v6.6M766 131.7v6.6M765 136.7v6.6M770 135.7v6.6M764 140.7v6.6M685 142.7v6.6M701 142.7v6.6M727 146.7v6.6M747 144.7v6.6M761 146.7v6.6M683 154.7v6.6M745 153.7v6.6M750 157.7v6.6M753 156.7v6.6M761 154.7v6.6M734 158.7v6.6M729 165.7v6.6M719 165.7v6.6M718 168.7v6.6M769 162.7v6.6M794 161.7v6.6M785 168.7v6.6M678 172.7v6.6M685 177.7v6.6M745 172.7v6.6M727 177.7v6.6M736 177.7v6.6M727 181.7v6.6M706 181.7v6.6M708 188.7v6.6M731 186.7v6.6M738 186.7v6.6M770 184.7v6.6M801 179.7v6.6M678 189.7v6.6M678 192.7v6.6M688 194.7v6.6M692 193.7v6.6M696 195.7v6.6M723 195.7v6.6M741 196.7v6.6M789 193.7v6.6M799 195.7v6.6M472 199.7v6.6M528 200.7v6.6M408 211.7v6.6M412 213.7v6.6M482 209.7v6.6M475 216.7v6.6M419 225.7v6.6M494 228.7v6.6M511 230.7v6.6M488 239.7v6.6M505 255.7v6.6M523 262.7v6.6M553 202.7v6.6M561 205.7v6.6M565 202.7v6.6M568 205.7v6.6M604 199.7v6.6M625 200.7v6.6M632 201.7v6.6M666 205.7v6.6M602 206.7v6.6M553 216.7v6.6M559 219.7v6.6M562 221.7v6.6M565 218.7v6.6M570 214.7v6.6M588 214.7v6.6M586 217.7v6.6M586 220.7v6.6M592 224.7v6.6M598 224.7v6.6M600 224.7v6.6M607 228.7v6.6M620 228.7v6.6M623 218.7v6.6M641 221.7v6.6M650 212.7v6.6M650 217.7v6.6M657 214.7v6.6M569 228.7v6.6M599 232.7v6.6M551 235.7v6.6M535 239.7v6.6M574 239.7v6.6M557 244.7v6.6M561 244.7v6.6M537 251.7v6.6M583 251.7v6.6M639 235.7v6.6M648 232.7v6.6M637 242.7v6.6M655 242.7v6.6M666 239.7v6.6M632 248.7v6.6M636 253.7v6.6M638 256.7v6.6M649 248.7v6.6M651 246.7v6.6M627 255.7v6.6M574 258.7v6.6M577 260.7v6.6M623 260.7v6.6M608 262.7v6.6M588 264.7v6.6M592 267.7v6.6M551 267.7v6.6M562 274.7v6.6M623 269.7v6.6M608 276.7v6.6M593 278.7v6.6M642 276.7v6.6M655 274.7v6.6M667 271.7v6.6M618 286.7v6.6M630 283.7v6.6M401 191.7v6.6M404 191.7v6.6" stroke="#2ca02c" stroke-width="2" stroke-opacity="0.6" fill="none"/><path d="M199 91h2M185 103h2M354 16h2M363 16h2M361 25h2M356 28h2M354 37h2M354 49h2M377 72h2M342 88h2M370 86h2M375 83h2M300 95h2M293 104h2M379 96h2M438 10h2M483 15h2M513 11h2M525 16h2M476 25h2M448 30h2M499 30h2M518 26h2M400 46h2M441 44h2M446 41h2M476 40h2M490 38h2M474 46h2M502 44h2M521 49h2M428 58h2M458 59h2M460 54h2M470 57h2M474 57h2M481 60h2M493 58h2M497 56h2M509 60h2M416 68h2M412 74h2M441 72h2M494 67h2M501 69h2M525 73h2M460 74h2M393 83h2M455 81h2M451 86h2M460 88h2M494 78h2M520 76h2M522 83h2M525 87h2M435 88h2M513 90h2M511 95h2M515 92h2M427 102h2M432 101h2M527 99h2M545 14h2M540 16h2M559 11h2M564 11h2M583 15h2M567 20h2M591 16h2M587 11h2M601 13h2M610 11h2M629 16h2M651 11h2M663 16h2M624 20h2M587 27h2M555 28h2M562 29h2M566 28h2M598 30h2M605 28h2M626 28h2M652 25h2M654 30h2M632 35h2M536 40h2M547 40h2M552 46h2M578 40h2M593 37h2M603 41h2M613 38h2M613 40h2M619 40h2M645 38h2M564 44h2M556 53h2M557 54h2M578 48h2M578 52h2M572 58h2M592 51h2M599 49h2M606 50h2M617 49h2M641 46h2M661 56h2M613 60h2M545 60h2M543 63h2M561 61h2M572 63h2M596 63h2M605 72h2M610 63h2M612 61h2M627 66h2M619 76h2M633 76h2M644 71h2M654 74h2M664 72h2M555 78h2M556 81h2M568 76h2M583 81h2M594 80h2M594 83h2M601 78h2M605 80h2M598 84h2M619 77h2M628 82h2M634 83h2M641 84h2M646 83h2M650 78h2M656 80h2M663 78h2M665 83h2M652 86h2M547 86h2M568 91h2M579 91h2M585 91h2M598 89h2M602 90h2M600 97h2M539 95h2M537 98h2M544 102h2M548 101h2M552 102h2M556 99h2M585 100h2M618 97h2M631 95h2M663 93h2M666 98h2M607 101h2M701 11h2M703 16h2M723 24h2M760 11h2M756 15h2M742 28h2M758 33h2M756 38h2M752 42h2M682 30h2M689 28h2M694 33h2M671 35h2M680 42h2M788 42h2M721 49h2M737 49h2M740 53h2M745 53h2M689 53h2M700 53h2M673 60h2M690 58h2M696 60h2M699 60h2M694 65h2M707 58h2M712 63h2M728 60h2M753 68h2M672 72h2M709 72h2M719 69h2M728 77h2M758 72h2M761 74h2M768 79h2M799 69h2M800 79h2M682 81h2M681 88h2M680 93h2M710 95h2M760 88h2M772 88h2M784 83h2M793 88h2M717 102h2M728 97h2M740 97h2M755 99h2M756 102h2M780 97h2M786 100h2M169 109h2M294 106h2M328 116h2M337 116h2M347 118h2M379 116h2M367 131h2M379 130h2M268 153h2M319 155h2M274 163h2M274 172h2M303 169h2M335 176h2M416 113h2M437 108h2M429 130h2M400 134h2M401 139h2M412 165h2M421 185h2M397 194h2M428 198h2M443 131h2M457 122h2M471 118h2M481 116h2M481 123h2M497 112h2M489 121h2M490 131h2M458 144h2M458 130h2M487 148h2M501 151h2M511 131h2M520 136h2M525 136h2M524 156h2M528 156h2M455 155h2M469 157h2M479 155h2M511 162h2M467 175h2M462 178h2M457 183h2M453 183h2M504 172h2M505 174h2M525 171h2M524 176h2M481 189h2M489 192h2M490 194h2M497 194h2M472 200h2M518 192h2M528 197h2M445 178h2M541 116h2M545 122h2M546 111h2M552 107h2M558 114h2M564 113h2M564 126h2M596 108h2M594 112h2M606 107h2M626 108h2M642 107h2M645 113h2M663 112h2M629 118h2M613 120h2M605 122h2M598 126h2M615 127h2M620 131h2M624 129h2M623 126h2M633 130h2M641 124h2M647 122h2M646 129h2M649 131h2M648 133h2M654 126h2M654 119h2M663 120h2M659 131h2M655 136h2M661 132h2M585 134h2M586 136h2M585 142h2M594 143h2M590 148h2M571 141h2M555 141h2M533 141h2M543 150h2M546 153h2M555 154h2M550 158h2M555 158h2M564 155h2M566 160h2M576 160h2M590 158h2M599 155h2M531 160h2M541 160h2M545 163h2M536 170h2M556 174h2M596 172h2M615 150h2M615 148h2M610 162h2M610 166h2M626 164h2M631 160h2M637 146h2M642 143h2M603 183h2M626 185h2M654 188h2M548 188h2M561 188h2M559 190h2M580 193h2M605 200h2M626 199h2M680 107h2M698 111h2M711 114h2M717 109h2M737 111h2M749 107h2M752 114h2M752 116h2M772 111h2M781 108h2M784 109h2M788 114h2M789 115h2M802 109h2M675 121h2M678 124h2M681 126h2M683 127h2M698 127h2M673 133h2M675 133h2M683 135h2M717 131h2M735 127h2M742 120h2M763 126h2M770 120h2M773 119h2M786 123h2M767 132h2M765 135h2M764 140h2M769 139h2M763 144h2M684 146h2M700 146h2M726 150h2M746 148h2M760 150h2M682 158h2M744 157h2M749 161h2M752 160h2M760 158h2M733 162h2M728 169h2M718 169h2M717 172h2M768 166h2M793 165h2M784 172h2M677 176h2M684 181h2M744 176h2M726 181h2M735 181h2M726 185h2M705 185h2M707 192h2M730 190h2M737 190h2M769 188h2M800 183h2M677 193h2M677 196h2M687 198h2M691 197h2M695 199h2M722 199h2M740 200h2M788 197h2M798 199h2M471 203h2M527 204h2M407 215h2M411 217h2M481 213h2M474 220h2M418 229h2M493 232h2M510 234h2M487 243h2M504 259h2M522 266h2M552 206h2M560 209h2M564 206h2M567 209h2M603 203h2M624 204h2M631 205h2M665 209h2M601 210h2M552 220h2M558 223h2M561 225h2M564 222h2M569 218h2M587 218h2M585 221h2M585 224h2M591 228h2M597 228h2M599 228h2M606 232h2M619 232h2M622 222h2M640 225h2M649 216h2M649 221h2M656 218h2M568 232h2M598 236h2M550 239h2M534 243h2M573 243h2M556 248h2M560 248h2M536 255h2M582 255h2M638 239h2M647 236h2M636 246h2M654 246h2M665 243h2M631 252h2M635 257h2M637 260h2M648 252h2M650 250h2M626 259h2M573 262h2M576 264h2M622 264h2M607 266h2M587 268h2M591 271h2M550 271h2M561 278h2M622 273h2M607 280h2M592 282h2M641 280h2M654 278h2M666 275h2M617 290h2M629 287h2M400 195h2M403 195h2" stroke="#2ca02c" stroke-width="2" stroke-opacity="0.95" fill="none"/><path d="M682.525 203h4.95M687.525 203h4.95M705.525 204h4.95M738.525 203h4.95M740.525 206h4.95M668.525 209h4.95M685.525 213h4.95M738.525 214h4.95M738.525 216h4.95M673.525 218h4.95M689.525 220h4.95M698.525 224h4.95M766.525 216h4.95M756.525 220h4.95M782.525 220h4.95M669.525 229h4.95M673.525 232h4.95M724.525 229h4.95M728.525 227h4.95M735.525 232h4.95M740.525 232h4.95M751.525 234h4.95M687.525 236h4.95M689.525 239h4.95M703.525 239h4.95M715.525 236h4.95M721.525 241h4.95M667.525 241h4.95M791.525 243h4.95M671.525 251h4.95M678.525 248h4.95M685.525 255h4.95M703.525 252h4.95M721.525 248h4.95M761.525 252h4.95M719.525 264h4.95M735.525 262h4.95M678.525 268h4.95M667.525 275h4.95" stroke="#2ca02c" stroke-width="1.5" stroke-opacity="0.6" fill="none"/><path d="M685 200.525v4.95M690 200.525v4.95M708 201.525v4.95M741 200.525v4.95M743 203.525v4.95M671 206.525v4.95M688 210.525v4.95M741 211.525v4.95M741 213.525v4.95M676 215.525v4.95M692 217.525v4.95M701 221.525v4.95M769 213.525v4.95M759 217.525v4.95M785 217.525v4.95M672 226.525v4.95M676 229.525v4.95M727 226.525v4.95M731 224.525v4.95M738 229.525v4.95M743 229.525v4.95M754 231.525v4.95M690 233.525v4.95M692 236.525v4.95M706 236.525v4.95M718 233.525v4.95M724 238.525v4.95M670 238.525v4.95M794 240.525v4.95M674 248.525v4.95M681 245.525v4.95M688 252.525v4.95M706 249.525v4.95M724 245.525v4.95M764 249.525v4.95M722 261.525v4.95M738 259.525v4.95M681 265.525v4.95M670 272.525v4.95" stroke="#2ca02c" stroke-width="1.5" stroke-opacity="0.6" fill="none"/><path d="M684 203h2M689 203h2M707 204h2M740 203h2M742 206h2M670 209h2M687 213h2M740 214h2M740 216h2M675 218h2M691 220h2M700 224h2M768 216h2M758 220h2M784 220h2M671 229h2M675 232h2M726 229h2M730 227h2M737 232h2M742 232h2M753 234h2M689 236h2M691 239h2M705 239h2M717 236h2M723 241h2M669 241h2M793 243h2M673 251h2M680 248h2M687 255h2M705 252h2M723 248h2M763 252h2M721 264h2M737 262h2M680 268h2M669 275h2" stroke="#2ca02c" stroke-width="1.5" stroke-opacity="0.95" fill="none"/><line x1="116.8" y1="330.67" x2="808.7" y2="330.67" stroke="#ff0000" stroke-width="3.46" stroke-dasharray="3.46 5.71"/><line x1="116.8" y1="485.9" x2="808.7" y2="485.9" stroke="#000" stroke-width="3.46" stroke-dasharray="3.46 5.71"/><line x1="778.3" y1="69.3" x2="778.3" y2="429.0" stroke="#000" stroke-width="3.4"/><path d="M767.0 238.39999999999998L789.5999999999999 261.0M767.0 261.0L789.5999999999999 238.39999999999998" stroke="#000" stroke-width="2.4" fill="none"/><line x1="449.3" y1="108.8" x2="449.3" y2="288.7" stroke="#000" stroke-width="3.4"/><path d="M438.0 187.29999999999998L460.6 209.9M438.0 209.9L460.6 187.29999999999998" stroke="#000" stroke-width="2.4" fill="none"/><line x1="236.4" y1="335.1" x2="236.4" y2="400.0" stroke="#000" stroke-width="3.4"/><path d="M225.1 355.8L247.70000000000002 378.40000000000003M225.1 378.40000000000003L247.70000000000002 355.8" stroke="#000" stroke-width="2.4" fill="none"/></g><rect x="116.8" y="8.4" width="691.9000000000001" height="483.40000000000003" fill="none" stroke="#000" stroke-width="1.8" stroke-linejoin="miter"/><line x1="116.80" y1="491.8" x2="116.80" y2="500.06" stroke="#000" stroke-width="1.8"/><text x="116.80" y="525.0" text-anchor="middle">0.0</text><line x1="215.64" y1="491.8" x2="215.64" y2="500.06" stroke="#000" stroke-width="1.8"/><text x="215.64" y="525.0" text-anchor="middle">0.5</text><line x1="314.49" y1="491.8" x2="314.49" y2="500.06" stroke="#000" stroke-width="1.8"/><text x="314.49" y="525.0" text-anchor="middle">1.0</text><line x1="413.33" y1="491.8" x2="413.33" y2="500.06" stroke="#000" stroke-width="1.8"/><text x="413.33" y="525.0" text-anchor="middle">1.5</text><line x1="512.17" y1="491.8" x2="512.17" y2="500.06" stroke="#000" stroke-width="1.8"/><text x="512.17" y="525.0" text-anchor="middle">2.0</text><line x1="611.01" y1="491.8" x2="611.01" y2="500.06" stroke="#000" stroke-width="1.8"/><text x="611.01" y="525.0" text-anchor="middle">2.5</text><line x1="709.86" y1="491.8" x2="709.86" y2="500.06" stroke="#000" stroke-width="1.8"/><text x="709.86" y="525.0" text-anchor="middle">3.0</text><line x1="808.70" y1="491.8" x2="808.70" y2="500.06" stroke="#000" stroke-width="1.8"/><text x="808.70" y="525.0" text-anchor="middle">3.5</text><line x1="108.53999999999999" y1="8.40" x2="116.8" y2="8.40" stroke="#000" stroke-width="1.8"/><text x="101.28" y="17.00" text-anchor="end">3.0</text><line x1="108.53999999999999" y1="62.11" x2="116.8" y2="62.11" stroke="#000" stroke-width="1.8"/><text x="101.28" y="70.71" text-anchor="end">2.5</text><line x1="108.53999999999999" y1="115.82" x2="116.8" y2="115.82" stroke="#000" stroke-width="1.8"/><text x="101.28" y="124.42" text-anchor="end">2.0</text><line x1="108.53999999999999" y1="169.53" x2="116.8" y2="169.53" stroke="#000" stroke-width="1.8"/><text x="101.28" y="178.13" text-anchor="end">1.5</text><line x1="108.53999999999999" y1="223.24" x2="116.8" y2="223.24" stroke="#000" stroke-width="1.8"/><text x="101.28" y="231.84" text-anchor="end">1.0</text><line x1="108.53999999999999" y1="276.96" x2="116.8" y2="276.96" stroke="#000" stroke-width="1.8"/><text x="101.28" y="285.56" text-anchor="end">0.5</text><line x1="108.53999999999999" y1="330.67" x2="116.8" y2="330.67" stroke="#000" stroke-width="1.8"/><text x="101.28" y="339.27" text-anchor="end">0.0</text><line x1="108.53999999999999" y1="384.38" x2="116.8" y2="384.38" stroke="#000" stroke-width="1.8"/><text x="101.28" y="392.98" text-anchor="end">−0.5</text><line x1="108.53999999999999" y1="438.09" x2="116.8" y2="438.09" stroke="#000" stroke-width="1.8"/><text x="101.28" y="446.69" text-anchor="end">−1.0</text><line x1="108.53999999999999" y1="491.80" x2="116.8" y2="491.80" stroke="#000" stroke-width="1.8"/><text x="101.28" y="500.40" text-anchor="end">−1.5</text><text x="401.50" y="203.70" font-style="italic">A</text><text x="417.65" y="207.57" font-size="16.52">2</text><text x="730.40" y="254.10" font-style="italic">A</text><text x="746.55" y="257.97" font-size="16.52">1</text><text x="189.30" y="372.70" font-style="italic">A</text><text x="205.45" y="376.57" font-size="16.52">3</text><text><tspan x="380.50" y="558.80">|</tspan><tspan x="388.34" y="558.80" font-style="italic">E</tspan><tspan x="407.83" y="549.72" font-size="16.52">+</tspan><tspan x="429.81" y="558.80">−</tspan><tspan x="453.83" y="558.80" font-style="italic">E</tspan><tspan x="473.33" y="549.72" font-size="16.52">−</tspan><tspan x="490.78" y="558.80">|</tspan><tspan x="506.17" y="558.80">/</tspan><tspan x="514.00" y="558.80" font-style="italic">e</tspan><tspan x="528.31" y="558.80" font-style="italic">V</tspan></text><g transform="translate(29.0 343.0) rotate(-90)"><text><tspan x="0.00" y="0.00">(</tspan><tspan x="9.03" y="0.00" font-style="italic">E</tspan><tspan x="28.43" y="-9.08" font-size="16.52">+</tspan><tspan x="50.29" y="0.00">+</tspan><tspan x="74.19" y="0.00" font-style="italic">E</tspan><tspan x="93.59" y="-9.08" font-size="16.52">−</tspan><tspan x="110.95" y="0.00">)</tspan><tspan x="119.97" y="0.00">/</tspan><tspan x="126.92" y="0.00">2</tspan><tspan x="149.16" y="0.00">/</tspan><tspan x="156.95" y="0.00" font-style="italic">e</tspan><tspan x="171.19" y="0.00" font-style="italic">V</tspan></text></g></g></svg></body></html>
